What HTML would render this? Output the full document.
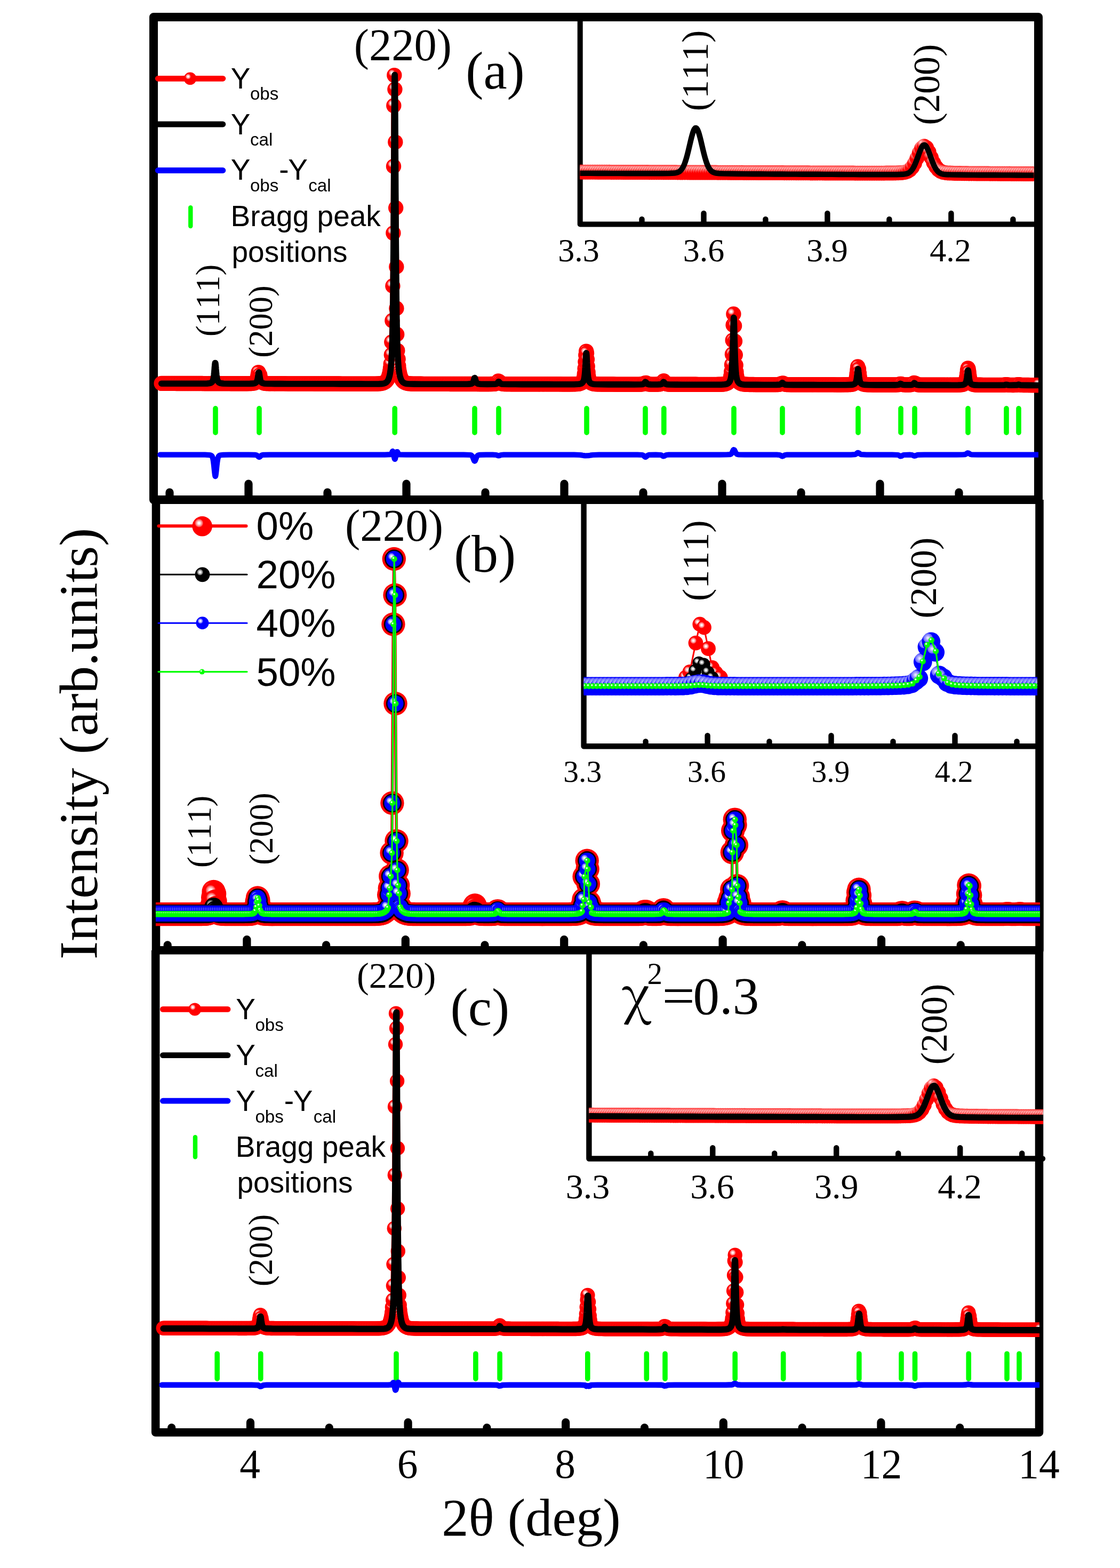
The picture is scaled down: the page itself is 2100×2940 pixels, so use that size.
<!DOCTYPE html>
<html lang="en"><head><meta charset="utf-8"><title>XRD Rietveld refinement figure</title>
<style>html,body{margin:0;padding:0;background:#fff;width:2100px;height:2940px}svg{display:block}text{fill:#000;font-kerning:none;font-variant-ligatures:none}</style></head>
<body>
<svg width="2100" height="2940" viewBox="0 0 2100 2940">
<rect width="2100" height="2940" fill="#fff"/>
<defs>
<radialGradient id="gr" cx=".34" cy=".34" r=".22"><stop offset="0" stop-color="#fff"/><stop offset=".18" stop-color="#fff"/><stop offset=".45" stop-color="#ffc0c0"/><stop offset=".8" stop-color="#ff6060"/><stop offset="1" stop-color="#f00"/></radialGradient>
<radialGradient id="gk" cx=".34" cy=".34" r=".22"><stop offset="0" stop-color="#fff"/><stop offset=".18" stop-color="#fff"/><stop offset=".45" stop-color="#c8c8c8"/><stop offset=".8" stop-color="#707070"/><stop offset="1" stop-color="#000"/></radialGradient>
<radialGradient id="gb" cx=".34" cy=".34" r=".22"><stop offset="0" stop-color="#fff"/><stop offset=".18" stop-color="#fff"/><stop offset=".45" stop-color="#c0c0ff"/><stop offset=".8" stop-color="#6868ff"/><stop offset="1" stop-color="#00f"/></radialGradient>
<radialGradient id="gg" cx=".34" cy=".34" r=".22"><stop offset="0" stop-color="#fff"/><stop offset=".18" stop-color="#fff"/><stop offset=".45" stop-color="#c0ffc0"/><stop offset=".8" stop-color="#60ff60"/><stop offset="1" stop-color="#0f0"/></radialGradient>
<radialGradient id="gR" cx=".3" cy=".25" r=".34"><stop offset="0" stop-color="#fff"/><stop offset=".15" stop-color="#ffd0d0"/><stop offset=".5" stop-color="#ff7070"/><stop offset="1" stop-color="#f00"/></radialGradient>
<radialGradient id="gB" cx=".33" cy=".31" r=".27"><stop offset="0" stop-color="#fff"/><stop offset=".15" stop-color="#e0e0ff"/><stop offset=".5" stop-color="#a0a0ff"/><stop offset=".9" stop-color="#6060ff"/><stop offset="1" stop-color="#00f"/></radialGradient>
<marker id="mA" markerUnits="userSpaceOnUse" markerWidth="30.4" markerHeight="30.4" refX="15.2" refY="15.2" viewBox="0 0 30.4 30.4"><circle cx="15.2" cy="15.2" r="14.2" fill="url(#gr)"/></marker>
<marker id="mC" markerUnits="userSpaceOnUse" markerWidth="29.4" markerHeight="29.4" refX="14.7" refY="14.7" viewBox="0 0 29.4 29.4"><circle cx="14.7" cy="14.7" r="13.7" fill="url(#gr)"/></marker>
<marker id="mBr" markerUnits="userSpaceOnUse" markerWidth="46.4" markerHeight="46.4" refX="23.2" refY="23.2" viewBox="0 0 46.4 46.4"><circle cx="23.2" cy="23.2" r="22.2" fill="url(#gr)"/></marker>
<marker id="mBk" markerUnits="userSpaceOnUse" markerWidth="37.2" markerHeight="37.2" refX="18.6" refY="18.6" viewBox="0 0 37.2 37.2"><circle cx="18.6" cy="18.6" r="17.6" fill="url(#gk)"/></marker>
<marker id="mBb" markerUnits="userSpaceOnUse" markerWidth="32" markerHeight="32" refX="16" refY="16" viewBox="0 0 32 32"><circle cx="16" cy="16" r="15" fill="url(#gb)"/></marker>
<marker id="mBg" markerUnits="userSpaceOnUse" markerWidth="13.2" markerHeight="13.2" refX="6.6" refY="6.6" viewBox="0 0 13.2 13.2"><circle cx="6.6" cy="6.6" r="5.6" fill="url(#gg)"/></marker>
<marker id="iR" markerUnits="userSpaceOnUse" markerWidth="30" markerHeight="30" refX="15" refY="15" viewBox="0 0 30 30"><circle cx="15" cy="15" r="14" fill="url(#gR)"/></marker>
<marker id="jR" markerUnits="userSpaceOnUse" markerWidth="29.8" markerHeight="29.8" refX="14.9" refY="14.9" viewBox="0 0 29.8 29.8"><circle cx="14.9" cy="14.9" r="13.9" fill="url(#gr)"/></marker>
<marker id="jK" markerUnits="userSpaceOnUse" markerWidth="26.4" markerHeight="26.4" refX="13.2" refY="13.2" viewBox="0 0 26.4 26.4"><circle cx="13.2" cy="13.2" r="12.2" fill="url(#gk)"/></marker>
<marker id="jB" markerUnits="userSpaceOnUse" markerWidth="36.8" markerHeight="36.8" refX="18.4" refY="18.4" viewBox="0 0 36.8 36.8"><circle cx="18.4" cy="18.4" r="17.4" fill="url(#gB)"/></marker>
<marker id="jG" markerUnits="userSpaceOnUse" markerWidth="13.2" markerHeight="13.2" refX="6.6" refY="6.6" viewBox="0 0 13.2 13.2"><circle cx="6.6" cy="6.6" r="5.6" fill="url(#gg)"/></marker>
<clipPath id="cA"><rect x="288" y="40" width="1659" height="890"/></clipPath>
<clipPath id="cB"><rect x="292.3" y="945" width="1657.7" height="830"/></clipPath>
<clipPath id="cC"><rect x="291.7" y="1790" width="1657.3" height="888"/></clipPath>
<clipPath id="cIA"><rect x="1087.5" y="40" width="851" height="376"/></clipPath>
<clipPath id="cIB"><rect x="1094.6" y="945" width="850.4" height="450"/></clipPath>
<clipPath id="cIC"><rect x="1104.3" y="1790" width="851.7" height="378"/></clipPath>
</defs>
<g stroke="#000" fill="none" stroke-linejoin="round" stroke-linecap="butt">
<rect x="288" y="32" width="1659" height="905" stroke-width="16"/>
<path d="M292.5 937V1781.8H1949V937" stroke-width="15.5"/>
<path d="M291.7 1781.8V2685.7H1948.5V1781.8" stroke-width="15.5"/>
<path d="M1087.7 36V420.5H1947" stroke-width="10"/>
<path d="M1094.6 940V1399.3H1949" stroke-width="10.4"/>
<path d="M1104.4 1785V2172.5H1955" stroke-width="10.4" stroke-linecap="round"/>
</g>
<path d="M318 932V923.1M466 932V907.1M614 932V923.1M762 932V907.1M910 932V923.1M1058 932V907.1M1206 932V923.1M1354 932V907.1M1502 932V923.1M1650 932V907.1M1798 932V923.1" stroke="#000" stroke-width="15.2" stroke-linecap="round" fill="none"/>
<path d="M314.2 1777V1771.9M462.9 1777V1761.6M611.6 1777V1771.9M760.3 1777V1761.6M909 1777V1771.9M1057.7 1777V1761.6M1206.4 1777V1771.9M1355.1 1777V1761.6M1503.8 1777V1771.9M1652.5 1777V1761.6M1801.2 1777V1771.9" stroke="#000" stroke-width="15.2" stroke-linecap="round" fill="none"/>
<path d="M321.7 2681V2676.8M469.5 2681V2666.9M617.3 2681V2676.8M765.1 2681V2666.9M912.9 2681V2676.8M1060.7 2681V2666.9M1208.5 2681V2676.8M1356.3 2681V2666.9M1504.1 2681V2676.8M1651.9 2681V2666.9M1799.7 2681V2676.8" stroke="#000" stroke-width="15.2" stroke-linecap="round" fill="none"/>
<path d="M1203.5 418V411M1319.5 418V399.9M1435.4 418V411M1551.4 418V399.9M1667.4 418V411M1783.4 418V399.9M1899.4 418V411" stroke="#000" stroke-width="10.4" stroke-linecap="round" fill="none"/>
<path d="M1210.6 1397V1390.2M1326.6 1397V1379.2M1442.5 1397V1390.2M1558.5 1397V1379.2M1674.5 1397V1390.2M1790.5 1397V1379.2M1906.5 1397V1390.2" stroke="#000" stroke-width="10.4" stroke-linecap="round" fill="none"/>
<path d="M1220.3 2170V2162.4M1336.3 2170V2152.2M1452.2 2170V2162.4M1568.2 2170V2152.2M1684.2 2170V2162.4M1800.2 2170V2152.2M1916.2 2170V2162.4" stroke="#000" stroke-width="10.4" stroke-linecap="round" fill="none"/>
<g clip-path="url(#cA)">
<polyline points="302.7,718.9 305.3,718.9 307.8,718.9 310.4,718.9 312.9,718.9 315.5,718.9 318,718.9 320.6,718.9 323.1,718.9 325.7,718.9 328.2,718.9 330.8,719 333.3,719 335.9,719 338.4,719 341,719 343.5,719 346.1,719 348.6,719 351.2,719 353.7,719 356.3,719 358.8,719 361.4,719 363.9,719 366.5,719 369,719 371.6,719 374.1,719 376.7,719 379.2,719 381.8,719.1 384.3,719.1 386.9,719.1 389.4,719.1 392,719.1 394.5,719.1 397.1,719.1 399.6,719.1 402.2,719.1 404.7,719.1 407.3,719.1 409.8,719.1 412.4,719.1 414.9,719.1 417.5,719.1 420,719.1 422.6,719.1 425.1,719.1 427.7,719.1 430.2,719.1 432.8,719.2 435.3,719.2 437.9,719.2 440.4,719.2 443,719.2 445.5,719.2 448.1,719.2 450.6,719.2 453.2,719.2 455.7,719.2 458.3,719.2 460.8,719.2 463.4,719.2 465.9,719.1 468.5,719.1 471,719 473.6,718.8 476.1,718.4 478.7,717.6 480.4,715.9 482.1,711.3 482.9,707.3 483.8,702.5 484.6,698.1 487.2,703.1 488,707.9 488.9,711.7 489.7,714.4 491.4,717 494,718.3 496.5,718.7 499.1,719 501.6,719.1 504.2,719.2 506.7,719.2 509.3,719.3 511.8,719.3 514.4,719.3 516.9,719.3 519.5,719.3 522,719.3 524.6,719.3 527.1,719.3 529.7,719.3 532.2,719.3 534.8,719.3 537.3,719.4 539.9,719.4 542.4,719.4 545,719.4 547.5,719.4 550.1,719.4 552.6,719.4 555.2,719.4 557.7,719.4 560.3,719.4 562.8,719.4 565.4,719.4 567.9,719.4 570.5,719.4 573,719.4 575.6,719.4 578.1,719.4 580.7,719.4 583.2,719.4 585.8,719.4 588.3,719.5 590.9,719.5 593.4,719.5 596,719.5 598.5,719.5 601.1,719.5 603.6,719.5 606.2,719.5 608.7,719.5 611.3,719.5 613.8,719.5 616.4,719.5 618.9,719.5 621.5,719.5 624,719.5 626.6,719.5 629.1,719.5 631.7,719.5 634.2,719.5 636.8,719.5 639.3,719.6 641.9,719.6 644.4,719.6 647,719.6 649.5,719.6 652.1,719.6 654.6,719.6 657.2,719.6 659.7,719.6 662.3,719.6 664.8,719.6 667.4,719.6 669.9,719.6 672.5,719.6 675,719.6 677.6,719.6 680.1,719.6 682.7,719.6 685.2,719.6 687.8,719.6 690.3,719.6 692.9,719.7 695.4,719.7 698,719.6 700.5,719.6 703.1,719.6 705.6,719.6 708.2,719.5 710.7,719.4 713.3,719.1 715.8,718.7 718.4,718.1 720.9,717 722.6,716 724.3,714.5 726,712.3 727.7,709 728.6,706.8 729.4,704.1 730.3,700.6 731.1,696 732,689.8 732.7,682.4 733.8,665.3 734.3,641.5 735.4,601.3 736.4,536.3 737.4,437.1 738,311.9 738.3,198.1 739.3,141.1 740.4,167.5 741.3,266.4 742.2,389.7 743.3,500.2 743.4,578.2 744.2,627 745.3,657.4 746.6,673.2 747.3,686.1 748.1,693.4 749,698.6 749.8,702.6 750.7,705.7 751.5,708.1 752.4,710.1 754.1,713 755.8,715 757.5,716.4 760,717.7 762.6,718.5 765.1,719 767.7,719.4 770.2,719.5 772.8,719.7 775.3,719.7 777.9,719.8 780.4,719.8 783,719.8 785.5,719.8 788.1,719.8 790.6,719.8 793.2,719.9 795.7,719.9 798.3,719.9 800.8,719.9 803.4,719.9 805.9,719.9 808.5,719.9 811,719.9 813.6,719.9 816.1,719.9 818.7,719.9 821.2,719.9 823.8,719.9 826.3,719.9 828.9,719.9 831.4,719.9 834,719.9 836.5,719.9 839.1,719.9 841.6,719.9 844.2,720 846.7,720 849.3,720 851.8,720 854.4,720 856.9,720 859.5,720 862,720 864.6,720 867.1,720 869.7,720 872.2,720 874.8,720 877.3,720 879.9,720 882.4,720 885,720 887.5,720 890.1,720 892.6,720 895.2,720 897.7,720.1 900.3,720.1 902.8,720.1 905.4,720.1 907.9,720.1 910.5,720.1 913,720.1 915.6,720.1 918.1,720.1 920.7,720 923.2,720 925.8,719.9 928.3,719.7 930.9,718.7 932.6,716.9 934.3,714.5 936.8,716 938.5,718.2 940.2,719.3 942.8,719.8 945.3,720 947.9,720.1 950.4,720.1 953,720.1 955.5,720.1 958.1,720.2 960.6,720.2 963.2,720.2 965.7,720.2 968.3,720.2 970.8,720.2 973.4,720.2 975.9,720.2 978.5,720.2 981,720.2 983.6,720.2 986.1,720.2 988.7,720.2 991.2,720.2 993.8,720.2 996.3,720.2 998.9,720.3 1001.4,720.3 1004,720.3 1006.5,720.3 1009.1,720.3 1011.6,720.3 1014.2,720.3 1016.7,720.3 1019.3,720.3 1021.8,720.3 1024.4,720.3 1026.9,720.3 1029.5,720.3 1032,720.3 1034.6,720.3 1037.1,720.3 1039.7,720.3 1042.2,720.3 1044.8,720.3 1047.3,720.3 1049.9,720.3 1052.4,720.4 1055,720.4 1057.5,720.4 1060.1,720.4 1062.6,720.4 1065.2,720.4 1067.7,720.4 1070.3,720.4 1072.8,720.3 1075.4,720.3 1077.9,720.2 1080.5,720.1 1083,719.9 1085.6,719.6 1088.1,719 1090.7,717.9 1092.4,716.2 1094.1,712.1 1094.9,707.9 1095.8,701 1096.6,691.1 1097.5,678.5 1098.3,665.7 1099.2,658.6 1100,662.2 1100.9,673.8 1101.7,686.9 1102.6,697.9 1103.4,705.8 1104.3,710.9 1105.1,713.9 1106,715.8 1107.7,717.7 1110.2,719 1112.8,719.6 1115.3,720 1117.9,720.2 1120.4,720.3 1123,720.4 1125.5,720.4 1128.1,720.5 1130.6,720.5 1133.2,720.5 1135.7,720.5 1138.3,720.5 1140.8,720.5 1143.4,720.5 1145.9,720.5 1148.5,720.5 1151,720.5 1153.6,720.6 1156.1,720.6 1158.7,720.6 1161.2,720.6 1163.8,720.6 1166.3,720.6 1168.9,720.6 1171.4,720.6 1174,720.6 1176.5,720.6 1179.1,720.6 1181.6,720.6 1184.2,720.6 1186.7,720.6 1189.3,720.6 1191.8,720.6 1194.4,720.6 1196.9,720.6 1199.5,720.6 1202,720.5 1204.6,720.3 1207.1,719.5 1208.8,718.4 1211.4,718 1213.1,719.3 1215.6,720.3 1218.2,720.5 1220.7,720.6 1223.3,720.6 1225.8,720.6 1228.4,720.6 1230.9,720.6 1233.5,720.5 1236,720.4 1238.6,720 1241.1,718.3 1242.8,715.7 1244.5,714.3 1246.2,716.4 1247.9,718.7 1249.6,719.9 1252.2,720.4 1254.7,720.6 1257.3,720.7 1259.8,720.7 1262.4,720.7 1264.9,720.7 1267.5,720.8 1270,720.8 1272.6,720.8 1275.1,720.8 1277.7,720.8 1280.2,720.8 1282.8,720.8 1285.3,720.8 1287.9,720.8 1290.4,720.8 1293,720.8 1295.5,720.8 1298.1,720.8 1300.6,720.8 1303.2,720.8 1305.7,720.8 1308.3,720.9 1310.8,720.9 1313.4,720.9 1315.9,720.9 1318.5,720.9 1321,720.9 1323.6,720.9 1326.1,720.9 1328.7,720.9 1331.2,720.9 1333.8,720.9 1336.3,720.9 1338.9,720.9 1341.4,720.9 1344,720.9 1346.5,720.8 1349.1,720.8 1351.6,720.7 1354.2,720.6 1356.7,720.3 1359.3,720 1361.8,719.3 1364.4,718.1 1366.1,716.7 1367.8,714.4 1368.6,712.5 1369.5,709.6 1370.3,704.8 1371.2,696.8 1372,683.8 1372.9,664.2 1373.7,638.1 1374.6,609.4 1375.4,588.8 1377.1,611 1378,639.8 1378.8,665.5 1379.7,684.7 1380.5,697.4 1381.4,705.2 1382.2,709.8 1383.1,712.6 1383.9,714.5 1385.6,716.8 1387.3,718.2 1389.9,719.4 1392.4,720 1395,720.4 1397.5,720.7 1400.1,720.8 1402.6,720.9 1405.2,721 1407.7,721 1410.3,721 1412.8,721 1415.4,721.1 1417.9,721.1 1420.5,721.1 1423,721.1 1425.6,721.1 1428.1,721.1 1430.7,721.1 1433.2,721.1 1435.8,721.1 1438.3,721.1 1440.9,721.1 1443.4,721.1 1446,721.1 1448.5,721.1 1451.1,721.1 1453.6,721.1 1456.2,721.1 1458.7,721 1461.3,720.8 1463.8,720 1465.5,718.9 1468.1,718.5 1469.8,719.8 1472.3,720.8 1474.9,721 1477.4,721.1 1480,721.1 1482.5,721.2 1485.1,721.2 1487.6,721.2 1490.2,721.2 1492.7,721.2 1495.3,721.2 1497.8,721.2 1500.4,721.2 1502.9,721.2 1505.5,721.2 1508,721.2 1510.6,721.2 1513.1,721.2 1515.7,721.3 1518.2,721.3 1520.8,721.3 1523.3,721.3 1525.9,721.3 1528.4,721.3 1531,721.3 1533.5,721.3 1536.1,721.3 1538.6,721.3 1541.2,721.3 1543.7,721.3 1546.3,721.3 1548.8,721.3 1551.4,721.3 1553.9,721.3 1556.5,721.3 1559,721.3 1561.6,721.3 1564.1,721.3 1566.7,721.4 1569.2,721.4 1571.8,721.4 1574.3,721.4 1576.9,721.4 1579.4,721.4 1582,721.3 1584.5,721.3 1587.1,721.3 1589.6,721.2 1592.2,721.1 1594.7,721 1597.3,720.7 1599.8,720.1 1602.4,718.6 1604.1,715.5 1604.9,712.3 1605.8,707.4 1606.6,700.8 1607.5,693.4 1608.3,687.5 1610,692.1 1610.9,699.5 1611.7,706.4 1612.6,711.5 1613.4,715 1614.3,717.2 1616,719.2 1618.5,720.3 1621.1,720.8 1623.6,721.1 1626.2,721.2 1628.7,721.3 1631.3,721.4 1633.8,721.4 1636.4,721.5 1638.9,721.5 1641.5,721.5 1644,721.5 1646.6,721.5 1649.1,721.5 1651.7,721.5 1654.2,721.5 1656.8,721.5 1659.3,721.5 1661.9,721.5 1664.4,721.5 1667,721.5 1669.5,721.5 1672.1,721.5 1674.6,721.5 1677.2,721.5 1679.7,721.5 1682.3,721.4 1684.8,721.1 1687.4,720 1689.9,719.9 1692.5,721 1695,721.4 1697.6,721.5 1700.1,721.5 1702.7,721.5 1705.2,721.5 1707.8,721.3 1710.3,720.7 1712,719.6 1713.7,717.9 1716.3,718.8 1718,720.3 1720.5,721.3 1723.1,721.5 1725.6,721.6 1728.2,721.6 1730.7,721.6 1733.3,721.7 1735.8,721.7 1738.4,721.7 1740.9,721.7 1743.5,721.7 1746,721.7 1748.6,721.7 1751.1,721.7 1753.7,721.7 1756.2,721.7 1758.8,721.7 1761.3,721.7 1763.9,721.7 1766.4,721.7 1769,721.7 1771.5,721.7 1774.1,721.8 1776.6,721.8 1779.2,721.8 1781.7,721.8 1784.3,721.8 1786.8,721.8 1789.4,721.7 1791.9,721.7 1794.5,721.7 1797,721.6 1799.6,721.5 1802.1,721.3 1804.7,721 1807.2,720.2 1808.9,718.9 1810.6,715.4 1811.5,712 1812.3,706.9 1813.2,700.5 1814,694 1814.9,690.4 1815.7,692.3 1816.6,698.1 1817.4,704.8 1818.3,710.4 1819.1,714.4 1820,717 1821.7,719.5 1824.2,720.7 1826.8,721.2 1829.3,721.5 1831.9,721.6 1834.4,721.7 1837,721.8 1839.5,721.8 1842.1,721.9 1844.6,721.9 1847.2,721.9 1849.7,721.9 1852.3,721.9 1854.8,721.9 1857.4,721.9 1859.9,721.9 1862.5,721.9 1865,721.9 1867.6,721.9 1870.1,721.9 1872.7,721.9 1875.2,721.9 1877.8,721.9 1880.3,721.9 1882.9,721.7 1885.4,721.2 1888,721.1 1890.5,721.7 1893.1,721.9 1895.6,721.9 1898.2,722 1900.7,722 1903.3,721.9 1905.8,721.8 1908.4,721.3 1910.9,721.1 1913.5,721.7 1916,721.9 1918.6,722 1921.1,722 1923.7,722 1926.2,722 1928.8,722 1931.3,722.1 1933.9,722.1 1936.4,722.1 1939,722.1 1941.5,722.1 1944.1,722.1 1946.6,722.1 1949.2,722.1" fill="none" stroke="#f00" stroke-width="10" stroke-linejoin="round" marker-start="url(#mA)" marker-mid="url(#mA)" marker-end="url(#mA)"/>
<polyline points="302.7,719.2 314.9,719.2 327.2,719.2 339.4,719.3 351.7,719.3 363.9,719.3 376.2,719.3 388.4,719.1 391.9,718.8 393.7,718.4 394.9,718 395.9,717.5 396.7,717 397.2,716.6 397.7,716.1 397.9,715.8 398.2,715.4 398.4,715 398.7,714.6 398.9,714 399.2,713.4 399.4,712.7 399.7,711.9 399.9,711 400.2,709.9 400.4,708.6 400.7,707.1 400.9,705.4 401.2,703.4 401.4,701.2 401.7,698.6 401.9,695.8 402.2,692.8 402.4,689.7 402.7,686.7 402.9,683.9 403.2,681.8 403.4,680.6 403.7,680.5 403.9,681.5 404.2,683.4 404.4,686.1 404.7,689.1 404.9,692.2 405.2,695.3 405.4,698.1 405.7,700.7 405.9,703 406.2,705 406.4,706.8 406.7,708.3 406.9,709.6 407.2,710.8 407.4,711.8 407.7,712.6 407.9,713.3 408.2,713.9 408.4,714.5 408.7,715 408.9,715.4 409.2,715.7 409.7,716.3 410.2,716.8 410.7,717.2 411.4,717.7 412.4,718.1 413.7,718.5 415.7,718.9 419.7,719.2 431.9,719.5 444.2,719.5 456.4,719.5 468.7,719.4 474.9,719.1 477.2,718.7 478.4,718.3 479.2,717.9 479.9,717.4 480.4,716.9 480.9,716.3 481.2,716 481.4,715.5 481.7,715 481.9,714.4 482.2,713.8 482.4,713 482.7,712 482.9,711 483.2,709.8 483.4,708.4 483.7,706.9 483.9,705.3 484.2,703.5 484.4,701.8 484.7,700.3 484.9,699 485.2,698.3 485.4,698.1 485.7,698.5 485.9,699.5 486.2,700.9 486.4,702.5 486.7,704.2 486.9,705.9 487.2,707.5 487.4,709 487.7,710.3 487.9,711.4 488.2,712.4 488.4,713.3 488.7,714.1 488.9,714.7 489.2,715.3 489.4,715.7 489.7,716.1 489.9,716.5 490.4,717.1 490.9,717.5 491.7,718 492.7,718.4 493.9,718.8 496.2,719.2 502.7,719.5 514.7,719.6 527,719.6 539.2,719.7 551.5,719.7 563.7,719.7 576,719.7 588.2,719.8 600.5,719.8 612.7,719.8 625,719.8 637.2,719.9 649.5,719.9 661.7,719.9 674,719.9 686.2,720 698.5,720 710.7,719.9 716.7,719.6 719,719.2 720.5,718.8 721.5,718.5 722.5,718 723.2,717.6 724,717.1 724.5,716.7 725,716.3 725.5,715.8 726,715.2 726.5,714.5 726.7,714.2 727,713.8 727.2,713.4 727.5,713 727.7,712.5 728,712 728.2,711.5 728.5,710.9 728.7,710.3 729,709.6 729.2,708.9 729.5,708.1 729.7,707.3 730,706.4 730.2,705.5 730.5,704.4 730.7,703.3 731,702.1 731.2,700.8 731.5,699.4 731.7,697.8 732,696.1 732.2,694.3 732.5,692.3 732.7,690.1 733,687.6 733.2,684.9 733.5,681.9 733.7,678.6 734,674.9 734.2,670.8 734.5,666.2 734.7,660.9 735,655 735.2,648.1 735.5,640.3 735.7,631.3 736,620.9 736.2,608.8 736.5,594.7 736.7,578.3 737,559.2 737.2,537 737.5,511.4 737.7,482 738,448.5 738.2,410.8 738.5,369.1 738.7,324.2 739,277.7 739.2,232.2 739.5,191.5 739.7,160.1 740,142.1 740.2,140.4 740.5,155.3 740.7,184.4 741,223.6 741.2,268.4 741.5,315 741.7,360.3 742,402.7 742.2,441.3 742.5,475.6 742.7,505.9 743,532.2 743.2,555 743.5,574.7 743.7,591.6 744,606.1 744.2,618.6 744.5,629.4 744.7,638.6 745,646.7 745.2,653.7 745.5,659.8 745.7,665.2 746,670 746.2,674.2 746.5,678 746.7,681.3 747,684.4 747.2,687.1 747.5,689.6 747.7,691.9 748,693.9 748.2,695.8 748.5,697.5 748.7,699.1 749,700.6 749.2,701.9 749.5,703.1 749.7,704.3 750,705.3 750.2,706.3 750.5,707.2 750.7,708 751,708.8 751.2,709.5 751.5,710.2 751.7,710.8 752,711.4 752.2,711.9 752.5,712.4 752.7,712.9 753,713.4 753.2,713.8 753.5,714.2 753.7,714.5 754.2,715.2 754.7,715.8 755.2,716.3 755.7,716.7 756.2,717.1 756.7,717.5 757.5,717.9 758.2,718.3 759.2,718.7 760.5,719.1 762.2,719.5 765.2,719.8 777.5,720.1 789.7,720.2 802,720.2 814.2,720.2 826.5,720.2 838.7,720.3 851,720.3 863.2,720.3 875.5,720.3 881.7,719.9 883.7,719.5 884.7,719.1 885.5,718.6 886,718.2 886.5,717.6 886.7,717.3 887,716.9 887.2,716.4 887.5,715.8 887.7,715.2 888,714.5 888.2,713.6 888.5,712.8 888.7,711.8 889,710.9 889.2,709.9 889.5,709.2 889.7,708.6 890.2,708.5 890.5,708.9 890.7,709.6 891,710.5 891.2,711.4 891.5,712.4 891.7,713.3 892,714.2 892.2,714.9 892.5,715.6 892.7,716.2 893,716.7 893.2,717.1 893.5,717.5 894,718.1 894.5,718.6 895.2,719.1 896.2,719.5 897.7,719.8 901.2,720.2 913.5,720.4 925.7,720.3 929.7,719.9 931,719.6 931.7,719.2 932.2,718.8 932.7,718.3 933.2,717.7 933.5,717.3 933.7,716.9 934,716.5 934.2,716.1 934.7,715.6 935.7,716 936,716.3 936.2,716.7 936.5,717.1 936.7,717.5 937,717.9 937.5,718.5 938,718.9 938.7,719.4 939.7,719.8 941.7,720.2 954,720.5 966.2,720.5 978.5,720.6 990.7,720.6 1003,720.6 1015.2,720.6 1027.5,720.6 1039.7,720.7 1052,720.7 1064.2,720.7 1076.5,720.7 1084.7,720.3 1087.2,719.9 1088.7,719.5 1089.7,719.2 1090.5,718.8 1091.2,718.3 1091.7,717.9 1092.2,717.4 1092.7,716.8 1093,716.5 1093.2,716.1 1093.5,715.7 1093.7,715.2 1094,714.7 1094.2,714 1094.5,713.3 1094.7,712.5 1095,711.6 1095.2,710.5 1095.5,709.2 1095.7,707.7 1096,706 1096.2,704 1096.5,701.7 1096.7,699 1097,696 1097.2,692.5 1097.5,688.6 1097.7,684.3 1098,679.7 1098.2,674.9 1098.5,670.4 1098.7,666.4 1099,663.4 1099.2,661.9 1099.5,662.1 1099.7,663.9 1100,667.1 1100.2,671.3 1100.5,675.9 1100.7,680.6 1101,685.2 1101.2,689.4 1101.5,693.2 1101.7,696.6 1102,699.6 1102.2,702.2 1102.5,704.5 1102.7,706.4 1103,708.1 1103.2,709.5 1103.5,710.7 1103.7,711.8 1104,712.7 1104.2,713.5 1104.5,714.2 1104.7,714.8 1105,715.3 1105.2,715.8 1105.5,716.2 1105.7,716.6 1106.2,717.2 1106.7,717.8 1107.2,718.2 1107.7,718.6 1108.5,719 1109.5,719.4 1110.7,719.8 1112.5,720.2 1115.7,720.5 1128,720.8 1140.2,720.9 1152.5,720.9 1164.7,720.9 1177,720.9 1189.2,721 1201.5,720.8 1205.2,720.4 1206.5,720 1207.2,719.6 1207.7,719.2 1208.2,718.6 1208.5,718.3 1208.7,717.9 1209,717.5 1209.2,717.1 1209.5,716.7 1210,716.2 1211,716.5 1211.2,716.8 1211.5,717.2 1211.7,717.6 1212,718 1212.2,718.4 1212.7,719 1213.2,719.4 1213.7,719.8 1214.5,720.2 1216,720.6 1220.5,720.9 1232.7,721 1238.7,720.6 1240.2,720.2 1241,719.8 1241.5,719.5 1242,719 1242.5,718.3 1242.7,718 1243,717.6 1243.2,717.2 1243.5,716.8 1244,716.2 1245,716.5 1245.2,716.9 1245.5,717.3 1245.7,717.7 1246,718.1 1246.2,718.4 1246.7,719 1247.2,719.5 1247.7,719.9 1248.5,720.2 1250,720.6 1254.5,721 1266.7,721.1 1279,721.2 1291.2,721.2 1303.5,721.2 1315.7,721.2 1328,721.3 1340.2,721.3 1352.5,721.2 1358.5,720.8 1360.7,720.5 1362.2,720.1 1363.5,719.7 1364.2,719.3 1365,718.9 1365.7,718.3 1366.2,717.9 1366.7,717.4 1367.2,716.8 1367.5,716.4 1367.7,716.1 1368,715.7 1368.2,715.2 1368.5,714.7 1368.7,714.2 1369,713.6 1369.2,712.9 1369.5,712.2 1369.7,711.4 1370,710.5 1370.2,709.4 1370.5,708.3 1370.7,706.9 1371,705.4 1371.2,703.7 1371.5,701.7 1371.7,699.3 1372,696.6 1372.2,693.5 1372.5,689.8 1372.7,685.5 1373,680.6 1373.2,674.9 1373.5,668.3 1373.7,660.9 1374,652.5 1374.2,643.3 1374.5,633.5 1374.7,623.4 1375,613.7 1375.2,605.2 1375.5,598.9 1375.7,595.6 1376,596 1376.2,599.9 1376.5,606.7 1376.7,615.6 1377,625.4 1377.2,635.5 1377.5,645.2 1377.7,654.3 1378,662.5 1378.2,669.7 1378.5,676.1 1378.7,681.7 1379,686.5 1379.2,690.6 1379.5,694.2 1379.7,697.2 1380,699.8 1380.2,702.1 1380.5,704.1 1380.7,705.8 1381,707.2 1381.2,708.5 1381.5,709.7 1381.7,710.7 1382,711.6 1382.2,712.4 1382.5,713.1 1382.7,713.7 1383,714.3 1383.2,714.9 1383.5,715.3 1383.7,715.8 1384,716.2 1384.2,716.5 1384.7,717.2 1385.2,717.7 1385.7,718.2 1386.2,718.6 1387,719.1 1387.7,719.5 1388.7,719.9 1390,720.3 1391.7,720.7 1394.7,721.1 1407,721.4 1419.2,721.4 1431.5,721.5 1443.7,721.5 1456,721.4 1462,721.1 1463.5,720.6 1464.2,720.2 1464.7,719.8 1465.2,719.3 1465.7,718.7 1466.2,718.1 1466.7,717.6 1468,718.2 1468.5,718.9 1469,719.5 1469.5,719.9 1470,720.3 1470.7,720.7 1472,721.1 1475.7,721.4 1488,721.6 1500.2,721.6 1512.5,721.6 1524.7,721.6 1537,721.7 1549.2,721.7 1561.5,721.7 1573.7,721.7 1586,721.7 1596.7,721.4 1599.2,721 1600.7,720.5 1601.7,720.1 1602.5,719.6 1603,719.2 1603.5,718.7 1603.7,718.4 1604,718 1604.2,717.6 1604.5,717.1 1604.7,716.6 1605,715.9 1605.2,715.2 1605.5,714.3 1605.7,713.3 1606,712.1 1606.2,710.7 1606.5,709.2 1606.7,707.4 1607,705.4 1607.2,703.2 1607.5,700.9 1607.7,698.5 1608,696.2 1608.2,694.1 1608.5,692.6 1608.7,691.9 1609,692 1609.2,692.9 1609.5,694.5 1609.7,696.6 1610,699 1610.2,701.4 1610.5,703.7 1610.7,705.8 1611,707.8 1611.2,709.5 1611.5,711 1611.7,712.4 1612,713.5 1612.2,714.5 1612.5,715.3 1612.7,716.1 1613,716.7 1613.2,717.2 1613.5,717.7 1613.7,718.1 1614,718.5 1614.5,719 1615,719.5 1615.5,719.9 1616.2,720.3 1617.2,720.7 1618.7,721.1 1621.2,721.4 1629,721.8 1641.2,721.9 1653.5,721.9 1665.7,721.9 1678,721.9 1684.2,721.5 1685.7,721.1 1686.5,720.6 1687,720.2 1687.5,719.8 1688,719.3 1690,719.8 1690.5,720.2 1691,720.6 1691.7,721.1 1693,721.5 1696.5,721.8 1708.7,721.7 1710.5,721.3 1711.5,720.8 1712.2,720.3 1712.7,719.8 1713.2,719.2 1713.7,718.5 1714.2,718.1 1715.5,718.7 1716,719.4 1716.5,720 1717,720.4 1717.5,720.8 1718.2,721.2 1719.5,721.5 1723.2,721.9 1735.5,722.1 1747.7,722.1 1760,722.1 1772.2,722.1 1784.5,722.2 1796.7,722.1 1803.5,721.7 1805.7,721.4 1807,721 1808,720.6 1808.7,720.1 1809.2,719.8 1809.7,719.3 1810.2,718.6 1810.5,718.2 1810.7,717.7 1811,717.2 1811.2,716.6 1811.5,715.9 1811.7,715 1812,714.1 1812.2,712.9 1812.5,711.6 1812.7,710.1 1813,708.4 1813.2,706.5 1813.5,704.5 1813.7,702.3 1814,700 1814.2,697.9 1814.5,696.1 1814.7,694.8 1815,694.2 1815.2,694.5 1815.5,695.5 1815.7,697.1 1816,699.1 1816.2,701.4 1816.5,703.6 1816.7,705.7 1817,707.7 1817.2,709.5 1817.5,711.1 1817.7,712.4 1818,713.6 1818.2,714.7 1818.5,715.6 1818.7,716.3 1819,717 1819.2,717.6 1819.5,718 1819.7,718.5 1820,718.8 1820.5,719.4 1821,719.9 1821.5,720.3 1822.2,720.7 1823.2,721.1 1824.7,721.5 1827.2,721.9 1835.5,722.2 1847.7,722.3 1860,722.3 1872.2,722.3 1883.7,722 1885,721.6 1886,721.2 1889,721.6 1890.2,722 1895.5,722.3 1907.2,721.9 1908.5,721.5 1909.5,721 1911.5,721.4 1912.5,721.8 1914.2,722.2 1926.5,722.4 1938.7,722.5 1950.2,722.5" fill="none" stroke="#000" stroke-width="11.6" stroke-linejoin="round" stroke-linecap="round"/>
<path d="M404 765.8V811.2M486 765.8V811.2M740.2 765.8V811.2M890 765.8V811.2M935 765.8V811.2M1100 765.8V811.2M1210 765.8V811.2M1244.8 765.8V811.2M1376 765.8V811.2M1467 765.8V811.2M1609 765.8V811.2M1689 765.8V811.2M1715 765.8V811.2M1815 765.8V811.2M1887 765.8V811.2M1910 765.8V811.2" stroke="#0f0" stroke-width="9.6" stroke-linecap="round" fill="none"/>
<polyline points="300.2,852.6 312.2,852.6 324.2,852.6 336.2,852.6 348.2,852.6 360.2,852.6 372.2,852.6 384.2,852.7 392,853.1 394.4,853.4 395.9,853.9 396.8,854.5 397.1,854.8 397.4,855.1 397.7,855.6 398,856.2 398.3,856.9 398.6,857.8 398.9,858.8 399.2,860.1 399.5,861.6 399.8,863.4 400.1,865.3 400.4,867.6 400.7,870.1 401,872.7 401.3,875.6 401.6,878.5 401.9,881.5 402.2,884.3 402.5,887 402.8,889.3 403.1,891.2 403.4,892.5 403.7,893.1 404,892.9 404.3,892.1 404.6,890.6 404.9,888.6 405.2,886.1 405.5,883.4 405.8,880.5 406.1,877.5 406.4,874.6 406.7,871.8 407,869.2 407.3,866.8 407.6,864.7 407.9,862.7 408.2,861.1 408.5,859.7 408.8,858.5 409.1,857.5 409.4,856.6 409.7,856 410,855.4 410.3,855 410.9,854.4 411.5,854 412.4,853.6 414.2,853.3 418.1,852.9 430.1,852.6 442.1,852.6 454.1,852.6 466.1,852.6 478.1,852.8 480.5,853.2 481.4,853.6 482,854 482.6,854.5 483.2,855 483.8,855.6 484.4,856.2 485,856.7 485.9,857.1 487.1,856.7 487.7,856.1 488.3,855.5 488.9,854.9 489.5,854.4 490.1,853.9 490.7,853.5 491.6,853.2 493.7,852.8 505.7,852.6 517.7,852.6 529.7,852.6 541.7,852.6 553.7,852.6 565.7,852.6 577.7,852.6 589.7,852.6 601.7,852.6 613.7,852.6 625.7,852.6 637.7,852.6 649.7,852.6 661.7,852.6 673.7,852.6 685.7,852.6 697.7,852.6 709.7,852.6 721.7,852.6 732.8,852.2 733.4,851.6 733.7,851.2 734,850.7 734.3,850 734.6,849.3 734.9,848.5 735.2,847.7 735.5,847 735.8,846.4 736.4,846 736.7,846.3 737,846.9 737.3,847.9 737.6,849.1 737.9,850.7 738.2,852.4 738.5,854.1 738.8,855.9 739.1,857.5 739.4,859 739.7,860.1 740,860.8 740.6,861 740.9,860.4 741.2,859.5 741.5,858.3 741.8,856.9 742.1,855.4 742.4,853.8 742.7,852.3 743,850.8 743.3,849.5 743.6,848.5 743.9,847.6 744.2,847.1 745.1,847.1 745.4,847.6 745.7,848.2 746,848.8 746.3,849.5 746.6,850.2 746.9,850.8 747.2,851.3 747.5,851.7 748.1,852.2 749.3,852.5 761.3,852.6 773.3,852.6 785.3,852.6 797.3,852.6 809.3,852.6 821.3,852.6 833.3,852.6 845.3,852.6 857.3,852.6 869.3,852.6 881.3,853 883.1,853.3 884,853.8 884.6,854.3 884.9,854.6 885.2,855 885.5,855.4 885.8,855.9 886.1,856.5 886.4,857.1 886.7,857.8 887,858.6 887.3,859.4 887.6,860.2 887.9,861 888.2,861.8 888.5,862.5 888.8,863.2 889.1,863.8 889.4,864.2 890,864.6 890.6,864.2 890.9,863.8 891.2,863.2 891.5,862.5 891.8,861.8 892.1,861 892.4,860.2 892.7,859.4 893,858.6 893.3,857.8 893.6,857.1 893.9,856.5 894.2,855.9 894.5,855.4 894.8,855 895.1,854.6 895.7,854 896.3,853.6 897.2,853.2 899.6,852.9 911.6,852.6 923.6,852.6 930.2,853 931.4,853.4 932.3,853.7 933.2,854.1 934.4,854.5 936.8,854.1 937.7,853.7 938.6,853.4 939.8,853 944.6,852.6 956.6,852.6 968.6,852.6 980.6,852.6 992.6,852.6 1004.6,852.6 1016.6,852.6 1028.6,852.6 1040.6,852.6 1052.6,852.6 1064.6,852.6 1076.6,852.7 1086.8,853 1090.1,853.4 1092.5,853.8 1094.6,854.1 1097.3,854.5 1104.2,854.1 1106.3,853.8 1108.7,853.4 1112,853 1123.1,852.7 1135.1,852.6 1147.1,852.6 1159.1,852.6 1171.1,852.6 1183.1,852.6 1195.1,852.6 1204.1,853 1205.3,853.4 1206.2,853.9 1206.8,854.4 1207.4,854.9 1208,855.5 1208.6,856.1 1209.2,856.7 1210.1,857.1 1211.3,856.7 1211.9,856.2 1212.5,855.6 1213.1,855 1213.7,854.5 1214.3,854 1214.9,853.6 1215.8,853.2 1217.6,852.8 1229.6,852.6 1238.9,853 1240.1,853.4 1241,853.9 1241.6,854.3 1242.2,854.7 1242.8,855.1 1243.7,855.5 1245.8,855.1 1246.4,854.7 1247,854.3 1247.6,853.9 1248.5,853.4 1249.7,853 1253.9,852.7 1265.9,852.6 1277.9,852.6 1289.9,852.6 1301.9,852.6 1313.9,852.6 1325.9,852.6 1337.9,852.6 1349.9,852.6 1361.9,852.5 1368.5,852.2 1369.7,851.8 1370.6,851.3 1371.2,850.7 1371.5,850.4 1371.8,850 1372.1,849.5 1372.4,849 1372.7,848.5 1373,847.9 1373.3,847.3 1373.6,846.6 1373.9,846 1374.2,845.3 1374.5,844.7 1374.8,844.2 1375.1,843.7 1375.7,843.2 1376.9,843.7 1377.2,844.2 1377.5,844.7 1377.8,845.3 1378.1,846 1378.4,846.6 1378.7,847.3 1379,847.9 1379.3,848.5 1379.6,849 1379.9,849.5 1380.2,850 1380.5,850.4 1381.1,851 1381.7,851.5 1382.6,851.9 1384.4,852.3 1396.4,852.6 1408.4,852.6 1420.4,852.6 1432.4,852.6 1444.4,852.6 1456.4,852.7 1461.8,853.1 1463,853.5 1463.9,854 1464.5,854.4 1465.1,854.8 1465.7,855.2 1466.6,855.6 1468.4,855.1 1469,854.8 1469.6,854.4 1470.2,854 1471.1,853.5 1472.3,853 1475.6,852.7 1487.6,852.6 1499.6,852.6 1511.6,852.6 1523.6,852.6 1535.6,852.6 1547.6,852.6 1559.6,852.6 1571.6,852.6 1583.6,852.6 1595.6,852.6 1603.1,852.2 1604.3,851.8 1605.2,851.2 1605.8,850.8 1606.4,850.3 1607,849.7 1607.6,849.2 1608.2,848.8 1610.6,849.4 1611.2,849.9 1611.8,850.4 1612.4,850.9 1613,851.4 1613.9,851.8 1615.1,852.2 1624.7,852.6 1636.7,852.6 1648.7,852.6 1660.7,852.6 1672.7,852.6 1683.5,853 1684.7,853.4 1685.6,853.8 1686.2,854.2 1686.8,854.6 1687.4,855 1688.3,855.5 1690.7,855 1691.3,854.6 1691.9,854.2 1692.5,853.8 1693.4,853.4 1694.6,853 1706.6,852.7 1710.2,853.1 1711.4,853.6 1712.3,854 1713.2,854.5 1714.1,854.9 1716.8,854.5 1717.7,854 1718.6,853.5 1719.5,853.2 1721.3,852.8 1733.3,852.6 1745.3,852.6 1757.3,852.6 1769.3,852.6 1781.3,852.6 1793.3,852.6 1805.3,852.5 1809.5,852.1 1810.7,851.7 1811.6,851.1 1812.2,850.7 1812.8,850.2 1813.4,849.8 1814,849.4 1816.7,849.8 1817.3,850.3 1817.9,850.8 1818.5,851.2 1819.1,851.6 1820,852 1821.5,852.3 1833.5,852.6 1845.5,852.6 1857.5,852.6 1869.5,852.6 1881.5,852.6 1893.5,852.6 1905.5,852.6 1917.5,852.6 1929.5,852.6 1941.5,852.6 1949.9,852.6" fill="none" stroke="#00f" stroke-width="10.2" stroke-linejoin="round" stroke-linecap="round"/>
</g>
<g clip-path="url(#cIA)">
<polyline points="1080,322.6 1084.4,322.6 1088.9,322.6 1093.3,322.7 1097.8,322.7 1102.2,322.7 1106.6,322.7 1111.1,322.7 1115.5,322.7 1120,322.8 1124.4,322.8 1128.8,322.8 1133.3,322.8 1137.7,322.8 1142.2,322.8 1146.6,322.9 1151,322.9 1155.5,322.9 1159.9,322.9 1164.4,322.9 1168.8,323 1173.2,323 1177.7,323 1182.1,323 1186.6,323 1191,323 1195.4,323.1 1199.9,323.1 1204.3,323.1 1208.8,323.1 1213.2,323.1 1217.6,323.2 1222.1,323.2 1226.5,323.2 1231,323.2 1235.4,323.2 1239.8,323.2 1244.3,323.3 1248.7,323.3 1253.2,323.3 1257.6,323.3 1262,323.3 1266.5,323.3 1270.9,323.4 1275.4,323.4 1279.8,323.4 1284.2,323.4 1288.7,323.4 1293.1,323.5 1297.6,323.5 1302,323.5 1306.4,323.5 1310.9,323.5 1315.3,323.5 1319.8,323.6 1324.2,323.6 1328.6,323.6 1333.1,323.6 1337.5,323.6 1342,323.6 1346.4,323.7 1350.8,323.7 1355.3,323.7 1359.7,323.7 1364.2,323.7 1368.6,323.8 1373,323.8 1377.5,323.8 1381.9,323.8 1386.4,323.8 1390.8,323.8 1395.2,323.9 1399.7,323.9 1404.1,323.9 1408.6,323.9 1413,323.9 1417.4,323.9 1421.9,324 1426.3,324 1430.8,324 1435.2,324 1439.6,324 1444.1,324.1 1448.5,324.1 1453,324.1 1457.4,324.1 1461.8,324.1 1466.3,324.1 1470.7,324.2 1475.2,324.2 1479.6,324.2 1484,324.2 1488.5,324.2 1492.9,324.3 1497.4,324.3 1501.8,324.3 1506.2,324.3 1510.7,324.3 1515.1,324.3 1519.6,324.4 1524,324.4 1528.4,324.4 1532.9,324.4 1537.3,324.4 1541.8,324.4 1546.2,324.5 1550.6,324.5 1555.1,324.5 1559.5,324.5 1564,324.5 1568.4,324.5 1572.8,324.6 1577.3,324.6 1581.7,324.6 1586.2,324.6 1590.6,324.6 1595,324.6 1599.5,324.6 1603.9,324.7 1608.4,324.7 1612.8,324.7 1617.2,324.7 1621.7,324.7 1626.1,324.7 1630.6,324.7 1635,324.7 1639.4,324.7 1643.9,324.7 1648.3,324.7 1652.8,324.7 1657.2,324.7 1661.6,324.6 1666.1,324.6 1670.5,324.5 1675,324.5 1679.4,324.4 1683.8,324.3 1688.3,324.1 1692.7,323.7 1697.2,322.9 1701.6,321.4 1706,318.5 1710.5,313.5 1714.9,306.2 1719.4,296.6 1723.8,286.4 1728.2,277.9 1732.7,274.2 1737.1,277 1741.6,285 1746,295.3 1750.4,305.1 1754.9,312.8 1759.3,318.1 1763.8,321.3 1768.2,323 1772.6,323.9 1777.1,324.4 1781.5,324.6 1786,324.8 1790.4,324.9 1794.8,325 1799.3,325.1 1803.7,325.2 1808.2,325.3 1812.6,325.3 1817,325.4 1821.5,325.4 1825.9,325.4 1830.4,325.5 1834.8,325.5 1839.2,325.6 1843.7,325.6 1848.1,325.6 1852.6,325.6 1857,325.7 1861.4,325.7 1865.9,325.7 1870.3,325.7 1874.8,325.8 1879.2,325.8 1883.6,325.8 1888.1,325.8 1892.5,325.8 1897,325.9 1901.4,325.9 1905.8,325.9 1910.3,325.9 1914.7,325.9 1919.2,326 1923.6,326 1928,326 1932.5,326 1936.9,326 1941.4,326 1945.8,326.1" fill="none" stroke="#f00" stroke-width="6" stroke-linejoin="round" marker-start="url(#iR)" marker-mid="url(#iR)" marker-end="url(#iR)"/>
<polyline points="1080,324.8 1093.5,324.9 1107,324.9 1120.5,325 1134,325 1147.5,325.1 1161,325.1 1174.5,325.2 1188,325.2 1201.5,325.3 1215,325.3 1228.5,325.3 1242,325.2 1255.5,325 1264.5,324.5 1267.5,324.1 1269,323.7 1270.5,323.3 1272,322.6 1273.5,321.8 1275,320.7 1276.5,319.3 1278,317.6 1279.5,315.4 1281,312.8 1282.5,309.6 1284,305.8 1285.5,301.5 1287,296.6 1288.5,291.2 1290,285.3 1291.5,279 1293,272.6 1294.5,266.2 1296,260 1297.5,254.2 1299,249.1 1300.5,244.9 1302,241.9 1303.5,240.2 1305,239.9 1306.5,241 1308,243.4 1309.5,247.1 1311,251.8 1312.5,257.3 1314,263.3 1315.5,269.7 1317,276.2 1318.5,282.5 1320,288.6 1321.5,294.3 1323,299.4 1324.5,304.1 1326,308.1 1327.5,311.6 1329,314.5 1330.5,316.9 1332,318.8 1333.5,320.4 1335,321.6 1336.5,322.6 1338,323.3 1339.5,323.8 1341,324.3 1344,324.8 1348.5,325.2 1357.5,325.6 1371,325.8 1384.5,326 1398,326.1 1411.5,326.2 1425,326.3 1438.5,326.4 1452,326.5 1465.5,326.5 1479,326.6 1492.5,326.6 1506,326.7 1519.5,326.8 1533,326.8 1546.5,326.9 1560,326.9 1573.5,327 1587,327.1 1600.5,327.1 1614,327.2 1627.5,327.2 1641,327.2 1654.5,327.3 1668,327.3 1681.5,327.2 1693.5,326.8 1698,326.2 1699.5,325.9 1701,325.4 1702.5,324.8 1704,324 1705.5,323 1707,321.8 1708.5,320.3 1710,318.4 1711.5,316.2 1713,313.6 1714.5,310.6 1716,307.3 1717.5,303.6 1719,299.7 1720.5,295.6 1722,291.4 1723.5,287.2 1725,283.3 1726.5,279.7 1728,276.6 1729.5,274.2 1731,272.5 1732.5,271.8 1734,271.9 1735.5,273 1737,274.9 1738.5,277.6 1740,280.9 1741.5,284.7 1743,288.7 1744.5,292.9 1746,297.1 1747.5,301.2 1749,305 1750.5,308.6 1752,311.8 1753.5,314.7 1755,317.2 1756.5,319.3 1758,321 1759.5,322.5 1761,323.6 1762.5,324.6 1764,325.3 1765.5,325.9 1767,326.3 1770,326.9 1774.5,327.3 1785,327.6 1798.5,327.8 1812,328 1825.5,328.1 1839,328.2 1852.5,328.2 1866,328.3 1879.5,328.4 1893,328.4 1906.5,328.5 1920,328.6 1933.5,328.6 1945.5,328.7" fill="none" stroke="#000" stroke-width="10.4" stroke-linejoin="round" stroke-linecap="butt"/>
</g>
<g clip-path="url(#cB)">
<polyline points="270,1714.1 272.8,1714.1 275.7,1714.1 278.5,1714.1 281.4,1714.1 284.2,1714.1 287,1714.1 289.9,1714.1 292.7,1714.1 295.6,1714.1 298.4,1714.1 301.2,1714.1 304.1,1714.1 306.9,1714.1 309.8,1714.1 312.6,1714.1 315.4,1714.1 318.3,1714.1 321.1,1714.1 324,1714.1 326.8,1714.1 329.6,1714.1 332.5,1714.1 335.3,1714.1 338.2,1714.1 341,1714.1 343.8,1714.1 346.7,1714.1 349.5,1714.1 352.4,1714.1 355.2,1714.1 358,1714.1 360.9,1714.1 363.7,1714.1 366.6,1714.1 369.4,1714.1 372.2,1714.1 375.1,1714 377.9,1714 380.8,1713.9 383.6,1713.8 386.4,1713.7 389.3,1713.3 392.1,1712.6 395,1710 396.4,1705.8 397.8,1696.6 399.2,1682.8 400.6,1672 402.1,1676.1 403.5,1690 404.9,1701.9 406.3,1708.2 407.7,1711.1 410.6,1712.8 413.4,1713.4 416.3,1713.7 419.1,1713.9 421.9,1714 424.8,1714 427.6,1714.1 430.5,1714.1 433.3,1714.1 436.1,1714.1 439,1714.1 441.8,1714.1 444.7,1714.1 447.5,1714.1 450.3,1714.1 453.2,1714.1 456,1714.1 458.9,1714 461.7,1714 464.5,1714 467.4,1713.9 470.2,1713.7 473.1,1713.3 475.9,1712.3 477.3,1710.9 478.7,1707.7 480.2,1700.6 481.6,1690.5 483,1683.5 484.4,1687.8 485.8,1697.9 487.3,1706.1 488.7,1710.2 490.1,1712.1 492.9,1713.2 495.8,1713.6 498.6,1713.8 501.5,1713.9 504.3,1714 507.1,1714 510,1714.1 512.8,1714.1 515.7,1714.1 518.5,1714.1 521.3,1714.1 524.2,1714.1 527,1714.1 529.9,1714.1 532.7,1714.1 535.5,1714.1 538.4,1714.1 541.2,1714.1 544.1,1714.1 546.9,1714.1 549.7,1714.1 552.6,1714.1 555.4,1714.1 558.3,1714.1 561.1,1714.1 563.9,1714.1 566.8,1714.1 569.6,1714.1 572.5,1714.1 575.3,1714.1 578.1,1714.1 581,1714.1 583.8,1714.1 586.7,1714.1 589.5,1714.1 592.3,1714.1 595.2,1714.1 598,1714.1 600.9,1714.1 603.7,1714.1 606.5,1714.1 609.4,1714.1 612.2,1714.1 615.1,1714.1 617.9,1714.1 620.7,1714.1 623.6,1714.1 626.4,1714.1 629.3,1714.1 632.1,1714.1 634.9,1714.1 637.8,1714.1 640.6,1714.1 643.5,1714.1 646.3,1714.1 649.1,1714.1 652,1714.1 654.8,1714.1 657.7,1714.1 660.5,1714.1 663.3,1714.1 666.2,1714.1 669,1714.1 671.9,1714.1 674.7,1714.1 677.5,1714.1 680.4,1714.1 683.2,1714.1 686.1,1714.1 688.9,1714.1 691.7,1714.1 694.6,1714.1 697.4,1714.1 700.3,1714 703.1,1714 705.9,1713.9 708.8,1713.7 711.6,1713.4 714.5,1713 717.3,1712.2 720.1,1710.9 723,1708.7 725.8,1705.1 727.2,1701.9 729.2,1677.7 730.8,1665.4 732.3,1643 734.6,1599.2 735.4,1505.8 737.4,1170.5 738.8,1048 740.5,1115.7 741.5,1319.2 743.5,1577 744.6,1631.5 746.2,1660 747.7,1675.4 750,1700.7 751.4,1704.3 752.8,1706.8 754.2,1708.3 757.1,1710.7 759.9,1712.1 762.7,1712.9 765.6,1713.4 768.4,1713.7 771.3,1713.9 774.1,1714 776.9,1714 779.8,1714.1 782.6,1714.1 785.5,1714.1 788.3,1714.1 791.1,1714.1 794,1714.1 796.8,1714.1 799.7,1714.1 802.5,1714.1 805.3,1714.1 808.2,1714.1 811,1714.1 813.9,1714.1 816.7,1714.1 819.5,1714.1 822.4,1714.1 825.2,1714.1 828.1,1714.1 830.9,1714.1 833.7,1714.1 836.6,1714.1 839.4,1714.1 842.3,1714.1 845.1,1714.1 847.9,1714.1 850.8,1714.1 853.6,1714.1 856.5,1714.1 859.3,1714.1 862.1,1714.1 865,1714.1 867.8,1714.1 870.7,1714 873.5,1714 876.3,1713.9 879.2,1713.7 882,1713.4 884.9,1711.9 886.3,1709.4 887.7,1705.2 889.1,1699.7 890.5,1697.5 892,1701.4 893.4,1707 894.8,1710.5 896.2,1712.4 899.1,1713.5 901.9,1713.8 904.7,1713.9 907.6,1714 910.4,1714 913.3,1714 916.1,1714 918.9,1714 921.8,1714 924.6,1713.9 927.5,1713.5 930.3,1711.5 931.7,1709.6 933.1,1708.1 936,1710.8 937.4,1712.4 940.2,1713.7 943.1,1713.9 945.9,1714 948.8,1714 951.6,1714.1 954.4,1714.1 957.3,1714.1 960.1,1714.1 963,1714.1 965.8,1714.1 968.6,1714.1 971.5,1714.1 974.3,1714.1 977.2,1714.1 980,1714.1 982.8,1714.1 985.7,1714.1 988.5,1714.1 991.4,1714.1 994.2,1714.1 997,1714.1 999.9,1714.1 1002.7,1714.1 1005.6,1714.1 1008.4,1714.1 1011.2,1714.1 1014.1,1714.1 1016.9,1714.1 1019.8,1714.1 1022.6,1714.1 1025.4,1714.1 1028.3,1714.1 1031.1,1714.1 1034,1714.1 1036.8,1714.1 1039.6,1714.1 1042.5,1714.1 1045.3,1714.1 1048.2,1714.1 1051,1714.1 1053.8,1714.1 1056.7,1714.1 1059.5,1714.1 1062.4,1714.1 1065.2,1714.1 1068,1714 1070.9,1714 1073.7,1713.9 1076.6,1713.8 1079.4,1713.7 1082.2,1713.4 1085.1,1712.8 1087.9,1711.8 1090.8,1709.2 1091.9,1698 1094.5,1686.6 1095.6,1643.6 1100.7,1613.7 1101.6,1629.5 1102.9,1657.6 1104.6,1692 1107.7,1700.7 1109.2,1711.8 1112.1,1712.9 1114.9,1713.4 1117.7,1713.7 1120.6,1713.8 1123.4,1714 1126.3,1714 1129.1,1714 1131.9,1714.1 1134.8,1714.1 1137.6,1714.1 1140.5,1714.1 1143.3,1714.1 1146.1,1714.1 1149,1714.1 1151.8,1714.1 1154.7,1714.1 1157.5,1714.1 1160.3,1714.1 1163.2,1714.1 1166,1714.1 1168.9,1714.1 1171.7,1714.1 1174.5,1714.1 1177.4,1714.1 1180.2,1714.1 1183.1,1714.1 1185.9,1714.1 1188.7,1714.1 1191.6,1714.1 1194.4,1714 1197.3,1714 1200.1,1713.9 1202.9,1713.7 1205.8,1712.6 1207.2,1711.1 1208.6,1709.1 1211.5,1709.3 1212.9,1711.2 1214.3,1712.7 1217.1,1713.7 1220,1713.9 1222.8,1714 1225.7,1714 1228.5,1714 1231.3,1714 1234.2,1713.9 1237,1713.7 1239.9,1712.5 1241.3,1710.8 1242.7,1708.1 1244.1,1706.1 1247,1709 1248.4,1711.5 1251.2,1713.5 1254.1,1713.8 1256.9,1714 1259.7,1714 1262.6,1714.1 1265.4,1714.1 1268.3,1714.1 1271.1,1714.1 1273.9,1714.1 1276.8,1714.1 1279.6,1714.1 1282.5,1714.1 1285.3,1714.1 1288.1,1714.1 1291,1714.1 1293.8,1714.1 1296.7,1714.1 1299.5,1714.1 1302.3,1714.1 1305.2,1714.1 1308,1714.1 1310.9,1714.1 1313.7,1714.1 1316.5,1714.1 1319.4,1714.1 1322.2,1714.1 1325.1,1714.1 1327.9,1714.1 1330.7,1714.1 1333.6,1714.1 1336.4,1714.1 1339.3,1714.1 1342.1,1714.1 1344.9,1714 1347.8,1714 1350.6,1713.9 1353.5,1713.8 1356.3,1713.5 1359.1,1713.1 1362,1712.4 1364.8,1711.2 1366.2,1693 1369.2,1684.3 1372.3,1667.7 1372.9,1598.2 1374.2,1557.5 1377.8,1536.6 1378.5,1547.1 1380.9,1584.6 1382.2,1660.9 1384,1681.8 1386.5,1693 1387.5,1709.9 1390.4,1711.8 1393.2,1712.8 1396.1,1713.3 1398.9,1713.6 1401.7,1713.8 1404.6,1713.9 1407.4,1714 1410.3,1714 1413.1,1714.1 1415.9,1714.1 1418.8,1714.1 1421.6,1714.1 1424.5,1714.1 1427.3,1714.1 1430.1,1714.1 1433,1714.1 1435.8,1714.1 1438.7,1714.1 1441.5,1714.1 1444.3,1714.1 1447.2,1714.1 1450,1714.1 1452.9,1714.1 1455.7,1714 1458.5,1713.9 1461.4,1713.6 1464.2,1712.1 1467.1,1710.1 1469.9,1712.2 1472.7,1713.7 1475.6,1713.9 1478.4,1714 1481.3,1714.1 1484.1,1714.1 1486.9,1714.1 1489.8,1714.1 1492.6,1714.1 1495.5,1714.1 1498.3,1714.1 1501.1,1714.1 1504,1714.1 1506.8,1714.1 1509.7,1714.1 1512.5,1714.1 1515.3,1714.1 1518.2,1714.1 1521,1714.1 1523.9,1714.1 1526.7,1714.1 1529.5,1714.1 1532.4,1714.1 1535.2,1714.1 1538.1,1714.1 1540.9,1714.1 1543.7,1714.1 1546.6,1714.1 1549.4,1714.1 1552.3,1714.1 1555.1,1714.1 1557.9,1714.1 1560.8,1714.1 1563.6,1714.1 1566.5,1714.1 1569.3,1714.1 1572.1,1714.1 1575,1714.1 1577.8,1714.1 1580.7,1714.1 1583.5,1714 1586.3,1714 1589.2,1714 1592,1713.9 1594.9,1713.7 1597.7,1713.4 1600.5,1712.7 1603.4,1710.9 1604.8,1708.2 1606.2,1701.3 1607.6,1688.6 1609.1,1673.3 1610.5,1667.8 1611.9,1679 1613.3,1694.2 1614.7,1704.6 1616.2,1709.4 1617.6,1711.5 1620.4,1712.9 1623.3,1713.5 1626.1,1713.7 1628.9,1713.9 1631.8,1714 1634.6,1714 1637.5,1714.1 1640.3,1714.1 1643.1,1714.1 1646,1714.1 1648.8,1714.1 1651.7,1714.1 1654.5,1714.1 1657.3,1714.1 1660.2,1714.1 1663,1714.1 1665.9,1714.1 1668.7,1714.1 1671.5,1714.1 1674.4,1714.1 1677.2,1714.1 1680.1,1714 1682.9,1714 1685.7,1713.7 1688.6,1712.3 1691.4,1711.1 1694.3,1712.9 1697.1,1713.8 1699.9,1714 1702.8,1714 1705.6,1714 1708.5,1713.8 1711.3,1713.1 1714.1,1710.8 1717,1710.9 1719.8,1713.2 1722.7,1713.9 1725.5,1714 1728.3,1714 1731.2,1714.1 1734,1714.1 1736.9,1714.1 1739.7,1714.1 1742.5,1714.1 1745.4,1714.1 1748.2,1714.1 1751.1,1714.1 1753.9,1714.1 1756.7,1714.1 1759.6,1714.1 1762.4,1714.1 1765.3,1714.1 1768.1,1714.1 1770.9,1714.1 1773.8,1714.1 1776.6,1714.1 1779.5,1714.1 1782.3,1714.1 1785.1,1714.1 1788,1714.1 1790.8,1714 1793.7,1714 1796.5,1713.9 1799.3,1713.8 1802.2,1713.5 1805,1713.1 1807.9,1712.2 1810.7,1709.3 1812.1,1704.5 1813.5,1693.6 1815,1676.1 1816.4,1659.7 1817.8,1661.1 1819.2,1678.5 1820.6,1695.4 1822.1,1705.4 1823.5,1709.6 1824.9,1711.5 1827.7,1712.8 1830.6,1713.4 1833.4,1713.7 1836.3,1713.9 1839.1,1714 1841.9,1714 1844.8,1714 1847.6,1714.1 1850.5,1714.1 1853.3,1714.1 1856.1,1714.1 1859,1714.1 1861.8,1714.1 1864.7,1714.1 1867.5,1714.1 1870.3,1714.1 1873.2,1714.1 1876,1714.1 1878.9,1714.1 1881.7,1714 1884.5,1713.9 1887.4,1713.3 1890.2,1713.2 1893.1,1713.8 1895.9,1714 1898.7,1714.1 1901.6,1714.1 1904.4,1714 1907.3,1713.9 1910.1,1713.4 1912.9,1713.2 1915.8,1713.8 1918.6,1714 1921.5,1714.1 1924.3,1714.1 1927.1,1714.1 1930,1714.1 1932.8,1714.1 1935.7,1714.1 1938.5,1714.1 1941.3,1714.1 1944.2,1714.1 1947,1714.1 1949.9,1714.1 1952.7,1714.1 1955.5,1714.1 1958.4,1714.1 1961.2,1714.1 1964.1,1714.1 1966.9,1714.1 1969.7,1714.1 1972.6,1714.1 1975.4,1714.1" fill="none" stroke="#f00" stroke-width="5.6" stroke-linejoin="round" marker-start="url(#mBr)" marker-mid="url(#mBr)" marker-end="url(#mBr)"/>
<polyline points="270,1713.6 272.8,1713.6 275.7,1713.6 278.5,1713.6 281.4,1713.6 284.2,1713.6 287,1713.6 289.9,1713.6 292.7,1713.6 295.6,1713.6 298.4,1713.6 301.2,1713.6 304.1,1713.6 306.9,1713.6 309.8,1713.6 312.6,1713.6 315.4,1713.6 318.3,1713.6 321.1,1713.6 324,1713.6 326.8,1713.6 329.6,1713.6 332.5,1713.6 335.3,1713.6 338.2,1713.6 341,1713.6 343.8,1713.6 346.7,1713.6 349.5,1713.6 352.4,1713.6 355.2,1713.6 358,1713.6 360.9,1713.6 363.7,1713.6 366.6,1713.6 369.4,1713.6 372.2,1713.6 375.1,1713.6 377.9,1713.6 380.8,1713.6 383.6,1713.5 386.4,1713.5 389.3,1713.3 392.1,1713.1 395,1712.3 396.4,1710.8 397.8,1707.8 399.2,1704.1 400.6,1700.6 403.5,1706.4 404.9,1709.5 406.3,1711.7 409.2,1713 412,1713.3 414.8,1713.4 417.7,1713.5 420.5,1713.5 423.4,1713.6 426.2,1713.6 429,1713.6 431.9,1713.6 434.7,1713.6 437.6,1713.6 440.4,1713.6 443.2,1713.6 446.1,1713.6 448.9,1713.6 451.8,1713.6 454.6,1713.6 457.4,1713.6 460.3,1713.5 463.1,1713.5 466,1713.4 468.8,1713.3 471.6,1713 474.5,1712.5 477.3,1710.4 478.7,1707.7 480.2,1700.6 481.6,1690.5 483,1683.5 484.4,1687.8 485.8,1697.9 487.3,1706.1 488.7,1709.7 490.1,1711.6 492.9,1712.7 495.8,1713.1 498.6,1713.3 501.5,1713.4 504.3,1713.5 507.1,1713.5 510,1713.6 512.8,1713.6 515.7,1713.6 518.5,1713.6 521.3,1713.6 524.2,1713.6 527,1713.6 529.9,1713.6 532.7,1713.6 535.5,1713.6 538.4,1713.6 541.2,1713.6 544.1,1713.6 546.9,1713.6 549.7,1713.6 552.6,1713.6 555.4,1713.6 558.3,1713.6 561.1,1713.6 563.9,1713.6 566.8,1713.6 569.6,1713.6 572.5,1713.6 575.3,1713.6 578.1,1713.6 581,1713.6 583.8,1713.6 586.7,1713.6 589.5,1713.6 592.3,1713.6 595.2,1713.6 598,1713.6 600.9,1713.6 603.7,1713.6 606.5,1713.6 609.4,1713.6 612.2,1713.6 615.1,1713.6 617.9,1713.6 620.7,1713.6 623.6,1713.6 626.4,1713.6 629.3,1713.6 632.1,1713.6 634.9,1713.6 637.8,1713.6 640.6,1713.6 643.5,1713.6 646.3,1713.6 649.1,1713.6 652,1713.6 654.8,1713.6 657.7,1713.6 660.5,1713.6 663.3,1713.6 666.2,1713.6 669,1713.6 671.9,1713.6 674.7,1713.6 677.5,1713.6 680.4,1713.6 683.2,1713.6 686.1,1713.6 688.9,1713.6 691.7,1713.6 694.6,1713.6 697.4,1713.6 700.3,1713.5 703.1,1713.5 705.9,1713.4 708.8,1713.2 711.6,1712.9 714.5,1712.5 717.3,1711.7 720.1,1710.4 723,1708.2 725.8,1705.1 727.2,1701.9 729.2,1677.7 730.8,1665.4 732.3,1643 734.6,1599.2 735.4,1505.8 737.4,1170.5 738.8,1048 740.5,1115.7 741.5,1319.2 743.5,1577 744.6,1631.5 746.2,1660 747.7,1675.4 750,1700.7 751.4,1704.3 752.8,1706.8 755.6,1709.2 758.5,1711 761.3,1712 764.2,1712.7 767,1713.1 769.8,1713.3 772.7,1713.4 775.5,1713.5 778.4,1713.5 781.2,1713.6 784,1713.6 786.9,1713.6 789.7,1713.6 792.6,1713.6 795.4,1713.6 798.2,1713.6 801.1,1713.6 803.9,1713.6 806.8,1713.6 809.6,1713.6 812.4,1713.6 815.3,1713.6 818.1,1713.6 821,1713.6 823.8,1713.6 826.6,1713.6 829.5,1713.6 832.3,1713.6 835.2,1713.6 838,1713.6 840.8,1713.6 843.7,1713.6 846.5,1713.6 849.4,1713.6 852.2,1713.6 855,1713.6 857.9,1713.6 860.7,1713.6 863.6,1713.6 866.4,1713.6 869.2,1713.6 872.1,1713.6 874.9,1713.5 877.8,1713.5 880.6,1713.4 883.4,1713.2 886.3,1712 887.7,1710.4 889.1,1708.4 892,1709 893.4,1711 896.2,1713 899.1,1713.4 901.9,1713.5 904.7,1713.5 907.6,1713.6 910.4,1713.6 913.3,1713.6 916.1,1713.6 918.9,1713.5 921.8,1713.5 924.6,1713.4 927.5,1713 930.3,1711 931.7,1709.1 933.1,1707.6 936,1710.3 937.4,1711.9 940.2,1713.2 943.1,1713.4 945.9,1713.5 948.8,1713.5 951.6,1713.6 954.4,1713.6 957.3,1713.6 960.1,1713.6 963,1713.6 965.8,1713.6 968.6,1713.6 971.5,1713.6 974.3,1713.6 977.2,1713.6 980,1713.6 982.8,1713.6 985.7,1713.6 988.5,1713.6 991.4,1713.6 994.2,1713.6 997,1713.6 999.9,1713.6 1002.7,1713.6 1005.6,1713.6 1008.4,1713.6 1011.2,1713.6 1014.1,1713.6 1016.9,1713.6 1019.8,1713.6 1022.6,1713.6 1025.4,1713.6 1028.3,1713.6 1031.1,1713.6 1034,1713.6 1036.8,1713.6 1039.6,1713.6 1042.5,1713.6 1045.3,1713.6 1048.2,1713.6 1051,1713.6 1053.8,1713.6 1056.7,1713.6 1059.5,1713.6 1062.4,1713.6 1065.2,1713.6 1068,1713.5 1070.9,1713.5 1073.7,1713.4 1076.6,1713.3 1079.4,1713.2 1082.2,1712.9 1085.1,1712.3 1087.9,1711.3 1090.8,1708.7 1091.9,1698 1094.5,1686.6 1095.6,1643.6 1100.7,1613.7 1101.6,1629.5 1102.9,1657.6 1104.6,1692 1107.7,1700.7 1109.2,1711.3 1112.1,1712.4 1114.9,1712.9 1117.7,1713.2 1120.6,1713.3 1123.4,1713.5 1126.3,1713.5 1129.1,1713.5 1131.9,1713.6 1134.8,1713.6 1137.6,1713.6 1140.5,1713.6 1143.3,1713.6 1146.1,1713.6 1149,1713.6 1151.8,1713.6 1154.7,1713.6 1157.5,1713.6 1160.3,1713.6 1163.2,1713.6 1166,1713.6 1168.9,1713.6 1171.7,1713.6 1174.5,1713.6 1177.4,1713.6 1180.2,1713.6 1183.1,1713.6 1185.9,1713.6 1188.7,1713.6 1191.6,1713.6 1194.4,1713.6 1197.3,1713.6 1200.1,1713.5 1202.9,1713.4 1205.8,1712.9 1208.6,1711.1 1211.5,1711.2 1214.3,1712.9 1217.1,1713.4 1220,1713.5 1222.8,1713.5 1225.7,1713.5 1228.5,1713.5 1231.3,1713.5 1234.2,1713.4 1237,1713.2 1239.9,1712 1241.3,1710.3 1242.7,1707.6 1244.1,1706.1 1247,1708.5 1248.4,1711 1251.2,1713 1254.1,1713.3 1256.9,1713.5 1259.7,1713.5 1262.6,1713.6 1265.4,1713.6 1268.3,1713.6 1271.1,1713.6 1273.9,1713.6 1276.8,1713.6 1279.6,1713.6 1282.5,1713.6 1285.3,1713.6 1288.1,1713.6 1291,1713.6 1293.8,1713.6 1296.7,1713.6 1299.5,1713.6 1302.3,1713.6 1305.2,1713.6 1308,1713.6 1310.9,1713.6 1313.7,1713.6 1316.5,1713.6 1319.4,1713.6 1322.2,1713.6 1325.1,1713.6 1327.9,1713.6 1330.7,1713.6 1333.6,1713.6 1336.4,1713.6 1339.3,1713.6 1342.1,1713.6 1344.9,1713.5 1347.8,1713.5 1350.6,1713.4 1353.5,1713.3 1356.3,1713 1359.1,1712.6 1362,1711.9 1364.8,1710.7 1366.2,1693 1369.2,1684.3 1372.3,1667.7 1372.9,1598.2 1374.2,1557.5 1377.8,1536.6 1378.5,1547.1 1380.9,1584.6 1382.2,1660.9 1384,1681.8 1386.5,1693 1387.5,1709.4 1390.4,1711.3 1393.2,1712.3 1396.1,1712.8 1398.9,1713.1 1401.7,1713.3 1404.6,1713.4 1407.4,1713.5 1410.3,1713.5 1413.1,1713.6 1415.9,1713.6 1418.8,1713.6 1421.6,1713.6 1424.5,1713.6 1427.3,1713.6 1430.1,1713.6 1433,1713.6 1435.8,1713.6 1438.7,1713.6 1441.5,1713.6 1444.3,1713.6 1447.2,1713.6 1450,1713.6 1452.9,1713.6 1455.7,1713.5 1458.5,1713.5 1461.4,1713.2 1464.2,1712.1 1467.1,1710.6 1469.9,1712.2 1472.7,1713.3 1475.6,1713.5 1478.4,1713.5 1481.3,1713.6 1484.1,1713.6 1486.9,1713.6 1489.8,1713.6 1492.6,1713.6 1495.5,1713.6 1498.3,1713.6 1501.1,1713.6 1504,1713.6 1506.8,1713.6 1509.7,1713.6 1512.5,1713.6 1515.3,1713.6 1518.2,1713.6 1521,1713.6 1523.9,1713.6 1526.7,1713.6 1529.5,1713.6 1532.4,1713.6 1535.2,1713.6 1538.1,1713.6 1540.9,1713.6 1543.7,1713.6 1546.6,1713.6 1549.4,1713.6 1552.3,1713.6 1555.1,1713.6 1557.9,1713.6 1560.8,1713.6 1563.6,1713.6 1566.5,1713.6 1569.3,1713.6 1572.1,1713.6 1575,1713.6 1577.8,1713.6 1580.7,1713.6 1583.5,1713.5 1586.3,1713.5 1589.2,1713.5 1592,1713.4 1594.9,1713.2 1597.7,1712.9 1600.5,1712.2 1603.4,1710.4 1604.8,1708.2 1606.2,1701.3 1607.6,1688.6 1609.1,1673.3 1610.5,1667.8 1611.9,1679 1613.3,1694.2 1614.7,1704.6 1616.2,1708.9 1617.6,1711 1620.4,1712.4 1623.3,1713 1626.1,1713.2 1628.9,1713.4 1631.8,1713.5 1634.6,1713.5 1637.5,1713.6 1640.3,1713.6 1643.1,1713.6 1646,1713.6 1648.8,1713.6 1651.7,1713.6 1654.5,1713.6 1657.3,1713.6 1660.2,1713.6 1663,1713.6 1665.9,1713.6 1668.7,1713.6 1671.5,1713.6 1674.4,1713.6 1677.2,1713.6 1680.1,1713.6 1682.9,1713.5 1685.7,1713.3 1688.6,1712.4 1691.4,1711.6 1694.3,1712.8 1697.1,1713.4 1699.9,1713.5 1702.8,1713.5 1705.6,1713.5 1708.5,1713.3 1711.3,1712.6 1714.1,1710.3 1717,1710.4 1719.8,1712.7 1722.7,1713.4 1725.5,1713.5 1728.3,1713.5 1731.2,1713.6 1734,1713.6 1736.9,1713.6 1739.7,1713.6 1742.5,1713.6 1745.4,1713.6 1748.2,1713.6 1751.1,1713.6 1753.9,1713.6 1756.7,1713.6 1759.6,1713.6 1762.4,1713.6 1765.3,1713.6 1768.1,1713.6 1770.9,1713.6 1773.8,1713.6 1776.6,1713.6 1779.5,1713.6 1782.3,1713.6 1785.1,1713.6 1788,1713.6 1790.8,1713.5 1793.7,1713.5 1796.5,1713.4 1799.3,1713.3 1802.2,1713 1805,1712.6 1807.9,1711.7 1810.7,1708.8 1812.1,1704.5 1813.5,1693.6 1815,1676.1 1816.4,1659.7 1817.8,1661.1 1819.2,1678.5 1820.6,1695.4 1822.1,1705.4 1823.5,1709.1 1824.9,1711 1827.7,1712.3 1830.6,1712.9 1833.4,1713.2 1836.3,1713.4 1839.1,1713.5 1841.9,1713.5 1844.8,1713.5 1847.6,1713.6 1850.5,1713.6 1853.3,1713.6 1856.1,1713.6 1859,1713.6 1861.8,1713.6 1864.7,1713.6 1867.5,1713.6 1870.3,1713.6 1873.2,1713.6 1876,1713.6 1878.9,1713.6 1881.7,1713.6 1884.5,1713.6 1887.4,1713.6 1890.2,1713.6 1893.1,1713.6 1895.9,1713.6 1898.7,1713.6 1901.6,1713.6 1904.4,1713.6 1907.3,1713.6 1910.1,1713.6 1912.9,1713.6 1915.8,1713.6 1918.6,1713.6 1921.5,1713.6 1924.3,1713.6 1927.1,1713.6 1930,1713.6 1932.8,1713.6 1935.7,1713.6 1938.5,1713.6 1941.3,1713.6 1944.2,1713.6 1947,1713.6 1949.9,1713.6 1952.7,1713.6 1955.5,1713.6 1958.4,1713.6 1961.2,1713.6 1964.1,1713.6 1966.9,1713.6 1969.7,1713.6 1972.6,1713.6 1975.4,1713.6" fill="none" stroke="#000" stroke-width="2.4" stroke-linejoin="round" marker-start="url(#mBk)" marker-mid="url(#mBk)" marker-end="url(#mBk)"/>
<polyline points="270,1712.8 272.8,1712.8 275.7,1712.8 278.5,1712.8 281.4,1712.8 284.2,1712.8 287,1712.8 289.9,1712.8 292.7,1712.8 295.6,1712.8 298.4,1712.8 301.2,1712.8 304.1,1712.8 306.9,1712.8 309.8,1712.8 312.6,1712.8 315.4,1712.8 318.3,1712.8 321.1,1712.8 324,1712.8 326.8,1712.8 329.6,1712.8 332.5,1712.8 335.3,1712.8 338.2,1712.8 341,1712.8 343.8,1712.8 346.7,1712.8 349.5,1712.8 352.4,1712.8 355.2,1712.8 358,1712.8 360.9,1712.8 363.7,1712.8 366.6,1712.8 369.4,1712.8 372.2,1712.8 375.1,1712.8 377.9,1712.8 380.8,1712.8 383.6,1712.8 386.4,1712.8 389.3,1712.8 392.1,1712.8 395,1712.8 397.8,1712.8 400.6,1712.8 403.5,1712.8 406.3,1712.8 409.2,1712.8 412,1712.8 414.8,1712.8 417.7,1712.8 420.5,1712.8 423.4,1712.8 426.2,1712.8 429,1712.8 431.9,1712.8 434.7,1712.8 437.6,1712.8 440.4,1712.8 443.2,1712.8 446.1,1712.8 448.9,1712.8 451.8,1712.8 454.6,1712.8 457.4,1712.8 460.3,1712.7 463.1,1712.7 466,1712.6 468.8,1712.5 471.6,1712.2 474.5,1711.7 477.3,1709.6 478.7,1707.7 480.2,1700.6 481.6,1690.5 483,1683.5 484.4,1687.8 485.8,1697.9 487.3,1706.1 488.7,1708.9 490.1,1710.8 492.9,1711.9 495.8,1712.3 498.6,1712.5 501.5,1712.6 504.3,1712.7 507.1,1712.7 510,1712.8 512.8,1712.8 515.7,1712.8 518.5,1712.8 521.3,1712.8 524.2,1712.8 527,1712.8 529.9,1712.8 532.7,1712.8 535.5,1712.8 538.4,1712.8 541.2,1712.8 544.1,1712.8 546.9,1712.8 549.7,1712.8 552.6,1712.8 555.4,1712.8 558.3,1712.8 561.1,1712.8 563.9,1712.8 566.8,1712.8 569.6,1712.8 572.5,1712.8 575.3,1712.8 578.1,1712.8 581,1712.8 583.8,1712.8 586.7,1712.8 589.5,1712.8 592.3,1712.8 595.2,1712.8 598,1712.8 600.9,1712.8 603.7,1712.8 606.5,1712.8 609.4,1712.8 612.2,1712.8 615.1,1712.8 617.9,1712.8 620.7,1712.8 623.6,1712.8 626.4,1712.8 629.3,1712.8 632.1,1712.8 634.9,1712.8 637.8,1712.8 640.6,1712.8 643.5,1712.8 646.3,1712.8 649.1,1712.8 652,1712.8 654.8,1712.8 657.7,1712.8 660.5,1712.8 663.3,1712.8 666.2,1712.8 669,1712.8 671.9,1712.8 674.7,1712.8 677.5,1712.8 680.4,1712.8 683.2,1712.8 686.1,1712.8 688.9,1712.8 691.7,1712.8 694.6,1712.8 697.4,1712.8 700.3,1712.7 703.1,1712.7 705.9,1712.6 708.8,1712.4 711.6,1712.1 714.5,1711.7 717.3,1710.9 720.1,1709.6 723,1707.4 725.8,1705.1 727.2,1701.9 729.2,1677.7 730.8,1665.4 732.3,1643 734.6,1599.2 735.4,1505.8 737.4,1170.5 738.8,1048 740.5,1115.7 741.5,1319.2 743.5,1577 744.6,1631.5 746.2,1660 747.7,1675.4 750,1700.7 751.4,1704.3 752.8,1706.8 755.6,1708.4 758.5,1710.2 761.3,1711.2 764.2,1711.9 767,1712.3 769.8,1712.5 772.7,1712.6 775.5,1712.7 778.4,1712.7 781.2,1712.8 784,1712.8 786.9,1712.8 789.7,1712.8 792.6,1712.8 795.4,1712.8 798.2,1712.8 801.1,1712.8 803.9,1712.8 806.8,1712.8 809.6,1712.8 812.4,1712.8 815.3,1712.8 818.1,1712.8 821,1712.8 823.8,1712.8 826.6,1712.8 829.5,1712.8 832.3,1712.8 835.2,1712.8 838,1712.8 840.8,1712.8 843.7,1712.8 846.5,1712.8 849.4,1712.8 852.2,1712.8 855,1712.8 857.9,1712.8 860.7,1712.8 863.6,1712.8 866.4,1712.8 869.2,1712.8 872.1,1712.8 874.9,1712.8 877.8,1712.8 880.6,1712.8 883.4,1712.8 886.3,1712.8 889.1,1712.8 892,1712.8 894.8,1712.8 897.6,1712.8 900.5,1712.8 903.3,1712.8 906.2,1712.8 909,1712.8 911.8,1712.8 914.7,1712.8 917.5,1712.8 920.4,1712.7 923.2,1712.6 926,1712.5 928.9,1711.5 931.7,1708.3 933.1,1706.8 936,1709.5 937.4,1711.1 940.2,1712.4 943.1,1712.6 945.9,1712.7 948.8,1712.7 951.6,1712.8 954.4,1712.8 957.3,1712.8 960.1,1712.8 963,1712.8 965.8,1712.8 968.6,1712.8 971.5,1712.8 974.3,1712.8 977.2,1712.8 980,1712.8 982.8,1712.8 985.7,1712.8 988.5,1712.8 991.4,1712.8 994.2,1712.8 997,1712.8 999.9,1712.8 1002.7,1712.8 1005.6,1712.8 1008.4,1712.8 1011.2,1712.8 1014.1,1712.8 1016.9,1712.8 1019.8,1712.8 1022.6,1712.8 1025.4,1712.8 1028.3,1712.8 1031.1,1712.8 1034,1712.8 1036.8,1712.8 1039.6,1712.8 1042.5,1712.8 1045.3,1712.8 1048.2,1712.8 1051,1712.8 1053.8,1712.8 1056.7,1712.8 1059.5,1712.8 1062.4,1712.8 1065.2,1712.8 1068,1712.7 1070.9,1712.7 1073.7,1712.6 1076.6,1712.5 1079.4,1712.4 1082.2,1712.1 1085.1,1711.5 1087.9,1710.5 1090.8,1707.9 1091.9,1698 1094.5,1686.6 1095.6,1643.6 1100.7,1613.7 1101.6,1629.5 1102.9,1657.6 1104.6,1692 1107.7,1700.7 1109.2,1710.5 1112.1,1711.6 1114.9,1712.1 1117.7,1712.4 1120.6,1712.5 1123.4,1712.7 1126.3,1712.7 1129.1,1712.7 1131.9,1712.8 1134.8,1712.8 1137.6,1712.8 1140.5,1712.8 1143.3,1712.8 1146.1,1712.8 1149,1712.8 1151.8,1712.8 1154.7,1712.8 1157.5,1712.8 1160.3,1712.8 1163.2,1712.8 1166,1712.8 1168.9,1712.8 1171.7,1712.8 1174.5,1712.8 1177.4,1712.8 1180.2,1712.8 1183.1,1712.8 1185.9,1712.8 1188.7,1712.8 1191.6,1712.8 1194.4,1712.8 1197.3,1712.8 1200.1,1712.8 1202.9,1712.8 1205.8,1712.8 1208.6,1712.8 1211.5,1712.8 1214.3,1712.8 1217.1,1712.8 1220,1712.8 1222.8,1712.8 1225.7,1712.8 1228.5,1712.7 1231.3,1712.7 1234.2,1712.6 1237,1712.4 1239.9,1711.3 1241.3,1709.7 1242.7,1707.2 1245.5,1707.1 1248.4,1710.3 1251.2,1712.2 1254.1,1712.6 1256.9,1712.7 1259.7,1712.7 1262.6,1712.8 1265.4,1712.8 1268.3,1712.8 1271.1,1712.8 1273.9,1712.8 1276.8,1712.8 1279.6,1712.8 1282.5,1712.8 1285.3,1712.8 1288.1,1712.8 1291,1712.8 1293.8,1712.8 1296.7,1712.8 1299.5,1712.8 1302.3,1712.8 1305.2,1712.8 1308,1712.8 1310.9,1712.8 1313.7,1712.8 1316.5,1712.8 1319.4,1712.8 1322.2,1712.8 1325.1,1712.8 1327.9,1712.8 1330.7,1712.8 1333.6,1712.8 1336.4,1712.8 1339.3,1712.8 1342.1,1712.8 1344.9,1712.7 1347.8,1712.7 1350.6,1712.6 1353.5,1712.5 1356.3,1712.2 1359.1,1711.8 1362,1711.1 1364.8,1709.9 1366.2,1693 1369.2,1684.3 1372.3,1667.7 1372.9,1598.2 1374.2,1557.5 1377.8,1536.6 1378.5,1547.1 1380.9,1584.6 1382.2,1660.9 1384,1681.8 1386.5,1693 1387.5,1708.6 1390.4,1710.5 1393.2,1711.5 1396.1,1712 1398.9,1712.3 1401.7,1712.5 1404.6,1712.6 1407.4,1712.7 1410.3,1712.7 1413.1,1712.8 1415.9,1712.8 1418.8,1712.8 1421.6,1712.8 1424.5,1712.8 1427.3,1712.8 1430.1,1712.8 1433,1712.8 1435.8,1712.8 1438.7,1712.8 1441.5,1712.8 1444.3,1712.8 1447.2,1712.8 1450,1712.8 1452.9,1712.8 1455.7,1712.8 1458.5,1712.8 1461.4,1712.8 1464.2,1712.8 1467.1,1712.8 1469.9,1712.8 1472.7,1712.8 1475.6,1712.8 1478.4,1712.8 1481.3,1712.8 1484.1,1712.8 1486.9,1712.8 1489.8,1712.8 1492.6,1712.8 1495.5,1712.8 1498.3,1712.8 1501.1,1712.8 1504,1712.8 1506.8,1712.8 1509.7,1712.8 1512.5,1712.8 1515.3,1712.8 1518.2,1712.8 1521,1712.8 1523.9,1712.8 1526.7,1712.8 1529.5,1712.8 1532.4,1712.8 1535.2,1712.8 1538.1,1712.8 1540.9,1712.8 1543.7,1712.8 1546.6,1712.8 1549.4,1712.8 1552.3,1712.8 1555.1,1712.8 1557.9,1712.8 1560.8,1712.8 1563.6,1712.8 1566.5,1712.8 1569.3,1712.8 1572.1,1712.8 1575,1712.8 1577.8,1712.8 1580.7,1712.8 1583.5,1712.7 1586.3,1712.7 1589.2,1712.7 1592,1712.6 1594.9,1712.4 1597.7,1712.1 1600.5,1711.4 1603.4,1709.6 1606.2,1701.3 1607.6,1688.6 1609.1,1673.3 1610.5,1667.8 1611.9,1679 1613.3,1694.2 1614.7,1704.6 1616.2,1708.1 1617.6,1710.2 1620.4,1711.6 1623.3,1712.2 1626.1,1712.4 1628.9,1712.6 1631.8,1712.7 1634.6,1712.7 1637.5,1712.8 1640.3,1712.8 1643.1,1712.8 1646,1712.8 1648.8,1712.8 1651.7,1712.8 1654.5,1712.8 1657.3,1712.8 1660.2,1712.8 1663,1712.8 1665.9,1712.8 1668.7,1712.8 1671.5,1712.8 1674.4,1712.8 1677.2,1712.8 1680.1,1712.8 1682.9,1712.8 1685.7,1712.8 1688.6,1712.8 1691.4,1712.8 1694.3,1712.8 1697.1,1712.8 1699.9,1712.8 1702.8,1712.7 1705.6,1712.7 1708.5,1712.6 1711.3,1711.8 1714.1,1709.5 1717,1709.6 1719.8,1711.9 1722.7,1712.6 1725.5,1712.7 1728.3,1712.7 1731.2,1712.8 1734,1712.8 1736.9,1712.8 1739.7,1712.8 1742.5,1712.8 1745.4,1712.8 1748.2,1712.8 1751.1,1712.8 1753.9,1712.8 1756.7,1712.8 1759.6,1712.8 1762.4,1712.8 1765.3,1712.8 1768.1,1712.8 1770.9,1712.8 1773.8,1712.8 1776.6,1712.8 1779.5,1712.8 1782.3,1712.8 1785.1,1712.8 1788,1712.8 1790.8,1712.7 1793.7,1712.7 1796.5,1712.6 1799.3,1712.5 1802.2,1712.2 1805,1711.8 1807.9,1710.9 1810.7,1708 1812.1,1704.5 1813.5,1693.6 1815,1676.1 1816.4,1659.7 1817.8,1661.1 1819.2,1678.5 1820.6,1695.4 1822.1,1705.4 1823.5,1708.3 1824.9,1710.2 1827.7,1711.5 1830.6,1712.1 1833.4,1712.4 1836.3,1712.6 1839.1,1712.7 1841.9,1712.7 1844.8,1712.7 1847.6,1712.8 1850.5,1712.8 1853.3,1712.8 1856.1,1712.8 1859,1712.8 1861.8,1712.8 1864.7,1712.8 1867.5,1712.8 1870.3,1712.8 1873.2,1712.8 1876,1712.8 1878.9,1712.8 1881.7,1712.8 1884.5,1712.8 1887.4,1712.8 1890.2,1712.8 1893.1,1712.8 1895.9,1712.8 1898.7,1712.8 1901.6,1712.8 1904.4,1712.8 1907.3,1712.8 1910.1,1712.8 1912.9,1712.8 1915.8,1712.8 1918.6,1712.8 1921.5,1712.8 1924.3,1712.8 1927.1,1712.8 1930,1712.8 1932.8,1712.8 1935.7,1712.8 1938.5,1712.8 1941.3,1712.8 1944.2,1712.8 1947,1712.8 1949.9,1712.8 1952.7,1712.8 1955.5,1712.8 1958.4,1712.8 1961.2,1712.8 1964.1,1712.8 1966.9,1712.8 1969.7,1712.8 1972.6,1712.8 1975.4,1712.8" fill="none" stroke="#00f" stroke-width="2.4" stroke-linejoin="round" marker-start="url(#mBb)" marker-mid="url(#mBb)" marker-end="url(#mBb)"/>
<path d="M272 1704.2H469.6M497.8 1704.2H708.2M769 1704.2H924M942.2 1704.2H1078.8M1118.3 1704.2H1235M1253.2 1704.2H1354.3M1399.5 1704.2H1594.3M1626.7 1704.2H1707.9M1723.2 1704.2H1800.2M1834 1704.2H1973.4" stroke="#7878ff" stroke-width="5.5" stroke-dasharray="1.1 2.3" fill="none"/>
<polyline points="270.4,1713.8 271.8,1713.8 273.2,1713.8 274.7,1713.8 276.1,1713.8 277.5,1713.8 278.9,1713.8 280.3,1713.8 281.8,1713.8 283.2,1713.8 284.6,1713.8 286,1713.8 287.4,1713.8 288.9,1713.8 290.3,1713.8 291.7,1713.8 293.1,1713.8 294.5,1713.8 296,1713.8 297.4,1713.8 298.8,1713.8 300.2,1713.8 301.6,1713.8 303.1,1713.8 304.5,1713.8 305.9,1713.8 307.3,1713.8 308.7,1713.8 310.2,1713.8 311.6,1713.8 313,1713.8 314.4,1713.8 315.8,1713.8 317.3,1713.8 318.7,1713.8 320.1,1713.8 321.5,1713.8 322.9,1713.8 324.4,1713.8 325.8,1713.8 327.2,1713.8 328.6,1713.8 330,1713.8 331.5,1713.8 332.9,1713.8 334.3,1713.8 335.7,1713.8 337.1,1713.8 338.6,1713.8 340,1713.8 341.4,1713.8 342.8,1713.8 344.2,1713.8 345.7,1713.8 347.1,1713.8 348.5,1713.8 349.9,1713.8 351.3,1713.8 352.8,1713.8 354.2,1713.8 355.6,1713.8 357,1713.8 358.4,1713.8 359.9,1713.8 361.3,1713.8 362.7,1713.8 364.1,1713.8 365.5,1713.8 367,1713.8 368.4,1713.8 369.8,1713.8 371.2,1713.8 372.6,1713.8 374.1,1713.8 375.5,1713.8 376.9,1713.8 378.3,1713.8 379.7,1713.8 381.2,1713.8 382.6,1713.8 384,1713.8 385.4,1713.8 386.8,1713.8 388.3,1713.8 389.7,1713.8 391.1,1713.8 392.5,1713.8 393.9,1713.8 395.4,1713.8 396.8,1713.8 398.2,1713.8 399.6,1713.8 401,1713.8 402.5,1713.8 403.9,1713.8 405.3,1713.8 406.7,1713.8 408.1,1713.8 409.6,1713.8 411,1713.8 412.4,1713.8 413.8,1713.8 415.2,1713.8 416.7,1713.8 418.1,1713.8 419.5,1713.8 420.9,1713.8 422.3,1713.8 423.8,1713.8 425.2,1713.8 426.6,1713.8 428,1713.8 429.4,1713.8 430.9,1713.8 432.3,1713.8 433.7,1713.8 435.1,1713.8 436.5,1713.8 438,1713.8 439.4,1713.8 440.8,1713.8 442.2,1713.8 443.6,1713.8 445.1,1713.8 446.5,1713.8 447.9,1713.8 449.3,1713.8 450.7,1713.8 452.2,1713.8 453.6,1713.8 455,1713.8 456.4,1713.8 457.8,1713.8 459.3,1713.7 460.7,1713.7 462.1,1713.7 463.5,1713.7 464.9,1713.7 466.4,1713.6 467.8,1713.6 469.2,1713.5 470.6,1713.4 472,1713.2 473.5,1713 474.9,1712.7 476.3,1712 477.7,1710.6 479.1,1707.7 480.6,1700.6 482,1690.5 483.4,1683.5 484.8,1687.8 486.2,1697.9 487.7,1706.1 489.1,1709.9 490.5,1711.8 491.9,1712.5 493.3,1712.9 494.8,1713.2 496.2,1713.3 497.6,1713.4 499,1713.5 500.4,1713.6 501.9,1713.6 503.3,1713.7 504.7,1713.7 506.1,1713.7 507.5,1713.7 509,1713.8 510.4,1713.8 511.8,1713.8 513.2,1713.8 514.6,1713.8 516.1,1713.8 517.5,1713.8 518.9,1713.8 520.3,1713.8 521.7,1713.8 523.2,1713.8 524.6,1713.8 526,1713.8 527.4,1713.8 528.8,1713.8 530.3,1713.8 531.7,1713.8 533.1,1713.8 534.5,1713.8 535.9,1713.8 537.4,1713.8 538.8,1713.8 540.2,1713.8 541.6,1713.8 543,1713.8 544.5,1713.8 545.9,1713.8 547.3,1713.8 548.7,1713.8 550.1,1713.8 551.6,1713.8 553,1713.8 554.4,1713.8 555.8,1713.8 557.2,1713.8 558.7,1713.8 560.1,1713.8 561.5,1713.8 562.9,1713.8 564.3,1713.8 565.8,1713.8 567.2,1713.8 568.6,1713.8 570,1713.8 571.4,1713.8 572.9,1713.8 574.3,1713.8 575.7,1713.8 577.1,1713.8 578.5,1713.8 580,1713.8 581.4,1713.8 582.8,1713.8 584.2,1713.8 585.6,1713.8 587.1,1713.8 588.5,1713.8 589.9,1713.8 591.3,1713.8 592.7,1713.8 594.2,1713.8 595.6,1713.8 597,1713.8 598.4,1713.8 599.8,1713.8 601.3,1713.8 602.7,1713.8 604.1,1713.8 605.5,1713.8 606.9,1713.8 608.4,1713.8 609.8,1713.8 611.2,1713.8 612.6,1713.8 614,1713.8 615.5,1713.8 616.9,1713.8 618.3,1713.8 619.7,1713.8 621.1,1713.8 622.6,1713.8 624,1713.8 625.4,1713.8 626.8,1713.8 628.2,1713.8 629.7,1713.8 631.1,1713.8 632.5,1713.8 633.9,1713.8 635.3,1713.8 636.8,1713.8 638.2,1713.8 639.6,1713.8 641,1713.8 642.4,1713.8 643.9,1713.8 645.3,1713.8 646.7,1713.8 648.1,1713.8 649.5,1713.8 651,1713.8 652.4,1713.8 653.8,1713.8 655.2,1713.8 656.6,1713.8 658.1,1713.8 659.5,1713.8 660.9,1713.8 662.3,1713.8 663.7,1713.8 665.2,1713.8 666.6,1713.8 668,1713.8 669.4,1713.8 670.8,1713.8 672.3,1713.8 673.7,1713.8 675.1,1713.8 676.5,1713.8 677.9,1713.8 679.4,1713.8 680.8,1713.8 682.2,1713.8 683.6,1713.8 685,1713.8 686.5,1713.8 687.9,1713.8 689.3,1713.8 690.7,1713.8 692.1,1713.8 693.6,1713.8 695,1713.8 696.4,1713.8 697.8,1713.8 699.2,1713.8 700.7,1713.7 702.1,1713.7 703.5,1713.7 704.9,1713.6 706.3,1713.6 707.8,1713.5 709.2,1713.4 710.6,1713.3 712,1713.1 713.4,1712.9 714.9,1712.7 716.3,1712.4 717.7,1711.9 719.1,1711.4 720.5,1710.6 722,1709.7 723.4,1708.4 724.8,1707.4 726.2,1705.1 727.6,1701.9 729.6,1677.7 731.2,1665.4 732.7,1643 735,1599.2 735.8,1505.8 737.8,1170.5 739.2,1048 740.9,1115.7 741.9,1319.2 743.9,1577 745,1631.5 746.6,1660 748.1,1675.4 750.4,1700.7 751.8,1704.3 753.2,1706.8 754.6,1708 756,1709.4 757.5,1710.4 758.9,1711.2 760.3,1711.8 761.7,1712.2 763.1,1712.6 764.6,1712.9 766,1713.1 767.4,1713.3 768.8,1713.4 770.2,1713.5 771.7,1713.6 773.1,1713.6 774.5,1713.7 775.9,1713.7 777.3,1713.7 778.8,1713.7 780.2,1713.8 781.6,1713.8 783,1713.8 784.4,1713.8 785.9,1713.8 787.3,1713.8 788.7,1713.8 790.1,1713.8 791.5,1713.8 793,1713.8 794.4,1713.8 795.8,1713.8 797.2,1713.8 798.6,1713.8 800.1,1713.8 801.5,1713.8 802.9,1713.8 804.3,1713.8 805.7,1713.8 807.2,1713.8 808.6,1713.8 810,1713.8 811.4,1713.8 812.8,1713.8 814.3,1713.8 815.7,1713.8 817.1,1713.8 818.5,1713.8 819.9,1713.8 821.4,1713.8 822.8,1713.8 824.2,1713.8 825.6,1713.8 827,1713.8 828.5,1713.8 829.9,1713.8 831.3,1713.8 832.7,1713.8 834.1,1713.8 835.6,1713.8 837,1713.8 838.4,1713.8 839.8,1713.8 841.2,1713.8 842.7,1713.8 844.1,1713.8 845.5,1713.8 846.9,1713.8 848.3,1713.8 849.8,1713.8 851.2,1713.8 852.6,1713.8 854,1713.8 855.4,1713.8 856.9,1713.8 858.3,1713.8 859.7,1713.8 861.1,1713.8 862.5,1713.8 864,1713.8 865.4,1713.8 866.8,1713.8 868.2,1713.8 869.6,1713.8 871.1,1713.8 872.5,1713.8 873.9,1713.8 875.3,1713.8 876.7,1713.8 878.2,1713.8 879.6,1713.8 881,1713.8 882.4,1713.8 883.8,1713.8 885.3,1713.8 886.7,1713.8 888.1,1713.8 889.5,1713.8 890.9,1713.8 892.4,1713.8 893.8,1713.8 895.2,1713.8 896.6,1713.8 898,1713.8 899.5,1713.8 900.9,1713.8 902.3,1713.8 903.7,1713.8 905.1,1713.8 906.6,1713.8 908,1713.8 909.4,1713.8 910.8,1713.8 912.2,1713.8 913.7,1713.8 915.1,1713.8 916.5,1713.8 917.9,1713.8 919.3,1713.7 920.8,1713.7 922.2,1713.7 923.6,1713.6 925,1713.6 926.4,1713.5 927.9,1713.2 929.3,1712.5 930.7,1711.2 932.1,1709.3 933.5,1707.8 935,1708.6 936.4,1710.5 937.8,1712.1 939.2,1713 940.6,1713.4 942.1,1713.6 943.5,1713.6 944.9,1713.7 946.3,1713.7 947.7,1713.7 949.2,1713.7 950.6,1713.8 952,1713.8 953.4,1713.8 954.8,1713.8 956.3,1713.8 957.7,1713.8 959.1,1713.8 960.5,1713.8 961.9,1713.8 963.4,1713.8 964.8,1713.8 966.2,1713.8 967.6,1713.8 969,1713.8 970.5,1713.8 971.9,1713.8 973.3,1713.8 974.7,1713.8 976.1,1713.8 977.6,1713.8 979,1713.8 980.4,1713.8 981.8,1713.8 983.2,1713.8 984.7,1713.8 986.1,1713.8 987.5,1713.8 988.9,1713.8 990.3,1713.8 991.8,1713.8 993.2,1713.8 994.6,1713.8 996,1713.8 997.4,1713.8 998.9,1713.8 1000.3,1713.8 1001.7,1713.8 1003.1,1713.8 1004.5,1713.8 1006,1713.8 1007.4,1713.8 1008.8,1713.8 1010.2,1713.8 1011.6,1713.8 1013.1,1713.8 1014.5,1713.8 1015.9,1713.8 1017.3,1713.8 1018.7,1713.8 1020.2,1713.8 1021.6,1713.8 1023,1713.8 1024.4,1713.8 1025.8,1713.8 1027.3,1713.8 1028.7,1713.8 1030.1,1713.8 1031.5,1713.8 1032.9,1713.8 1034.4,1713.8 1035.8,1713.8 1037.2,1713.8 1038.6,1713.8 1040,1713.8 1041.5,1713.8 1042.9,1713.8 1044.3,1713.8 1045.7,1713.8 1047.1,1713.8 1048.6,1713.8 1050,1713.8 1051.4,1713.8 1052.8,1713.8 1054.2,1713.8 1055.7,1713.8 1057.1,1713.8 1058.5,1713.8 1059.9,1713.8 1061.3,1713.8 1062.8,1713.8 1064.2,1713.8 1065.6,1713.8 1067,1713.8 1068.4,1713.7 1069.9,1713.7 1071.3,1713.7 1072.7,1713.7 1074.1,1713.6 1075.5,1713.6 1077,1713.5 1078.4,1713.5 1079.8,1713.4 1081.2,1713.2 1082.6,1713.1 1084.1,1712.8 1085.5,1712.5 1086.9,1712.1 1088.3,1711.5 1089.7,1710.5 1091.2,1708.9 1092.3,1698 1094.9,1686.6 1096,1643.6 1101.1,1613.7 1102,1629.5 1103.3,1657.6 1105,1692 1108.1,1700.7 1109.6,1711.5 1111,1712.1 1112.5,1712.6 1113.9,1712.9 1115.3,1713.1 1116.7,1713.2 1118.1,1713.4 1119.6,1713.5 1121,1713.5 1122.4,1713.6 1123.8,1713.7 1125.2,1713.7 1126.7,1713.7 1128.1,1713.7 1129.5,1713.7 1130.9,1713.8 1132.3,1713.8 1133.8,1713.8 1135.2,1713.8 1136.6,1713.8 1138,1713.8 1139.4,1713.8 1140.9,1713.8 1142.3,1713.8 1143.7,1713.8 1145.1,1713.8 1146.5,1713.8 1148,1713.8 1149.4,1713.8 1150.8,1713.8 1152.2,1713.8 1153.6,1713.8 1155.1,1713.8 1156.5,1713.8 1157.9,1713.8 1159.3,1713.8 1160.7,1713.8 1162.2,1713.8 1163.6,1713.8 1165,1713.8 1166.4,1713.8 1167.8,1713.8 1169.3,1713.8 1170.7,1713.8 1172.1,1713.8 1173.5,1713.8 1174.9,1713.8 1176.4,1713.8 1177.8,1713.8 1179.2,1713.8 1180.6,1713.8 1182,1713.8 1183.5,1713.8 1184.9,1713.8 1186.3,1713.8 1187.7,1713.8 1189.1,1713.8 1190.6,1713.8 1192,1713.8 1193.4,1713.8 1194.8,1713.8 1196.2,1713.8 1197.7,1713.8 1199.1,1713.8 1200.5,1713.8 1201.9,1713.8 1203.3,1713.8 1204.8,1713.8 1206.2,1713.8 1207.6,1713.8 1209,1713.8 1210.4,1713.8 1211.9,1713.8 1213.3,1713.8 1214.7,1713.8 1216.1,1713.8 1217.5,1713.8 1219,1713.8 1220.4,1713.8 1221.8,1713.8 1223.2,1713.8 1224.6,1713.8 1226.1,1713.8 1227.5,1713.8 1228.9,1713.7 1230.3,1713.7 1231.7,1713.7 1233.2,1713.7 1234.6,1713.6 1236,1713.5 1237.4,1713.4 1238.8,1713.1 1240.3,1712.3 1241.7,1710.7 1243.1,1708.2 1244.5,1706.6 1245.9,1707.1 1247.4,1709 1248.8,1711.3 1250.2,1712.6 1251.6,1713.2 1253,1713.4 1254.5,1713.6 1255.9,1713.6 1257.3,1713.7 1258.7,1713.7 1260.1,1713.7 1261.6,1713.7 1263,1713.8 1264.4,1713.8 1265.8,1713.8 1267.2,1713.8 1268.7,1713.8 1270.1,1713.8 1271.5,1713.8 1272.9,1713.8 1274.3,1713.8 1275.8,1713.8 1277.2,1713.8 1278.6,1713.8 1280,1713.8 1281.4,1713.8 1282.9,1713.8 1284.3,1713.8 1285.7,1713.8 1287.1,1713.8 1288.5,1713.8 1290,1713.8 1291.4,1713.8 1292.8,1713.8 1294.2,1713.8 1295.6,1713.8 1297.1,1713.8 1298.5,1713.8 1299.9,1713.8 1301.3,1713.8 1302.7,1713.8 1304.2,1713.8 1305.6,1713.8 1307,1713.8 1308.4,1713.8 1309.8,1713.8 1311.3,1713.8 1312.7,1713.8 1314.1,1713.8 1315.5,1713.8 1316.9,1713.8 1318.4,1713.8 1319.8,1713.8 1321.2,1713.8 1322.6,1713.8 1324,1713.8 1325.5,1713.8 1326.9,1713.8 1328.3,1713.8 1329.7,1713.8 1331.1,1713.8 1332.6,1713.8 1334,1713.8 1335.4,1713.8 1336.8,1713.8 1338.2,1713.8 1339.7,1713.8 1341.1,1713.8 1342.5,1713.8 1343.9,1713.7 1345.3,1713.7 1346.8,1713.7 1348.2,1713.7 1349.6,1713.6 1351,1713.6 1352.4,1713.5 1353.9,1713.5 1355.3,1713.4 1356.7,1713.2 1358.1,1713.1 1359.5,1712.8 1361,1712.5 1362.4,1712.1 1363.8,1711.6 1365.2,1710.9 1366.6,1693 1369.6,1684.3 1372.7,1667.7 1373.3,1598.2 1374.6,1557.5 1378.2,1536.6 1378.9,1547.1 1381.3,1584.6 1382.6,1660.9 1384.4,1681.8 1386.9,1693 1387.9,1709.6 1389.4,1710.7 1390.8,1711.5 1392.2,1712.1 1393.6,1712.5 1395,1712.8 1396.5,1713 1397.9,1713.2 1399.3,1713.3 1400.7,1713.4 1402.1,1713.5 1403.6,1713.6 1405,1713.6 1406.4,1713.7 1407.8,1713.7 1409.2,1713.7 1410.7,1713.7 1412.1,1713.8 1413.5,1713.8 1414.9,1713.8 1416.3,1713.8 1417.8,1713.8 1419.2,1713.8 1420.6,1713.8 1422,1713.8 1423.4,1713.8 1424.9,1713.8 1426.3,1713.8 1427.7,1713.8 1429.1,1713.8 1430.5,1713.8 1432,1713.8 1433.4,1713.8 1434.8,1713.8 1436.2,1713.8 1437.6,1713.8 1439.1,1713.8 1440.5,1713.8 1441.9,1713.8 1443.3,1713.8 1444.7,1713.8 1446.2,1713.8 1447.6,1713.8 1449,1713.8 1450.4,1713.8 1451.8,1713.8 1453.3,1713.8 1454.7,1713.8 1456.1,1713.8 1457.5,1713.8 1458.9,1713.8 1460.4,1713.8 1461.8,1713.8 1463.2,1713.8 1464.6,1713.8 1466,1713.8 1467.5,1713.8 1468.9,1713.8 1470.3,1713.8 1471.7,1713.8 1473.1,1713.8 1474.6,1713.8 1476,1713.8 1477.4,1713.8 1478.8,1713.8 1480.2,1713.8 1481.7,1713.8 1483.1,1713.8 1484.5,1713.8 1485.9,1713.8 1487.3,1713.8 1488.8,1713.8 1490.2,1713.8 1491.6,1713.8 1493,1713.8 1494.4,1713.8 1495.9,1713.8 1497.3,1713.8 1498.7,1713.8 1500.1,1713.8 1501.5,1713.8 1503,1713.8 1504.4,1713.8 1505.8,1713.8 1507.2,1713.8 1508.6,1713.8 1510.1,1713.8 1511.5,1713.8 1512.9,1713.8 1514.3,1713.8 1515.7,1713.8 1517.2,1713.8 1518.6,1713.8 1520,1713.8 1521.4,1713.8 1522.8,1713.8 1524.3,1713.8 1525.7,1713.8 1527.1,1713.8 1528.5,1713.8 1529.9,1713.8 1531.4,1713.8 1532.8,1713.8 1534.2,1713.8 1535.6,1713.8 1537,1713.8 1538.5,1713.8 1539.9,1713.8 1541.3,1713.8 1542.7,1713.8 1544.1,1713.8 1545.6,1713.8 1547,1713.8 1548.4,1713.8 1549.8,1713.8 1551.2,1713.8 1552.7,1713.8 1554.1,1713.8 1555.5,1713.8 1556.9,1713.8 1558.3,1713.8 1559.8,1713.8 1561.2,1713.8 1562.6,1713.8 1564,1713.8 1565.4,1713.8 1566.9,1713.8 1568.3,1713.8 1569.7,1713.8 1571.1,1713.8 1572.5,1713.8 1574,1713.8 1575.4,1713.8 1576.8,1713.8 1578.2,1713.8 1579.6,1713.8 1581.1,1713.8 1582.5,1713.8 1583.9,1713.7 1585.3,1713.7 1586.7,1713.7 1588.2,1713.7 1589.6,1713.7 1591,1713.6 1592.4,1713.6 1593.8,1713.5 1595.3,1713.4 1596.7,1713.3 1598.1,1713.1 1599.5,1712.8 1600.9,1712.4 1602.4,1711.8 1603.8,1710.6 1605.2,1708.2 1606.6,1701.3 1608,1688.6 1609.5,1673.3 1610.9,1667.8 1612.3,1679 1613.7,1694.2 1615.1,1704.6 1616.6,1709.1 1618,1711.2 1619.4,1712.1 1620.8,1712.6 1622.2,1712.9 1623.7,1713.2 1625.1,1713.3 1626.5,1713.4 1627.9,1713.5 1629.3,1713.6 1630.8,1713.6 1632.2,1713.7 1633.6,1713.7 1635,1713.7 1636.4,1713.7 1637.9,1713.8 1639.3,1713.8 1640.7,1713.8 1642.1,1713.8 1643.5,1713.8 1645,1713.8 1646.4,1713.8 1647.8,1713.8 1649.2,1713.8 1650.6,1713.8 1652.1,1713.8 1653.5,1713.8 1654.9,1713.8 1656.3,1713.8 1657.7,1713.8 1659.2,1713.8 1660.6,1713.8 1662,1713.8 1663.4,1713.8 1664.8,1713.8 1666.3,1713.8 1667.7,1713.8 1669.1,1713.8 1670.5,1713.8 1671.9,1713.8 1673.4,1713.8 1674.8,1713.8 1676.2,1713.8 1677.6,1713.8 1679,1713.8 1680.5,1713.8 1681.9,1713.8 1683.3,1713.8 1684.7,1713.8 1686.1,1713.8 1687.6,1713.8 1689,1713.8 1690.4,1713.8 1691.8,1713.8 1693.2,1713.8 1694.7,1713.8 1696.1,1713.8 1697.5,1713.8 1698.9,1713.8 1700.3,1713.8 1701.8,1713.8 1703.2,1713.7 1704.6,1713.7 1706,1713.7 1707.4,1713.6 1708.9,1713.6 1710.3,1713.3 1711.7,1712.8 1713.1,1711.8 1714.5,1710.5 1716,1709.8 1717.4,1710.6 1718.8,1711.9 1720.2,1712.9 1721.6,1713.4 1723.1,1713.6 1724.5,1713.6 1725.9,1713.7 1727.3,1713.7 1728.7,1713.7 1730.2,1713.8 1731.6,1713.8 1733,1713.8 1734.4,1713.8 1735.8,1713.8 1737.3,1713.8 1738.7,1713.8 1740.1,1713.8 1741.5,1713.8 1742.9,1713.8 1744.4,1713.8 1745.8,1713.8 1747.2,1713.8 1748.6,1713.8 1750,1713.8 1751.5,1713.8 1752.9,1713.8 1754.3,1713.8 1755.7,1713.8 1757.1,1713.8 1758.6,1713.8 1760,1713.8 1761.4,1713.8 1762.8,1713.8 1764.2,1713.8 1765.7,1713.8 1767.1,1713.8 1768.5,1713.8 1769.9,1713.8 1771.3,1713.8 1772.8,1713.8 1774.2,1713.8 1775.6,1713.8 1777,1713.8 1778.4,1713.8 1779.9,1713.8 1781.3,1713.8 1782.7,1713.8 1784.1,1713.8 1785.5,1713.8 1787,1713.8 1788.4,1713.8 1789.8,1713.7 1791.2,1713.7 1792.6,1713.7 1794.1,1713.7 1795.5,1713.7 1796.9,1713.6 1798.3,1713.6 1799.7,1713.5 1801.2,1713.4 1802.6,1713.2 1804,1713.1 1805.4,1712.8 1806.8,1712.5 1808.3,1711.9 1809.7,1711 1811.1,1709 1812.5,1704.5 1813.9,1693.6 1815.4,1676.1 1816.8,1659.7 1818.2,1661.1 1819.6,1678.5 1821,1695.4 1822.5,1705.4 1823.9,1709.3 1825.3,1711.2 1826.7,1712 1828.1,1712.5 1829.6,1712.9 1831,1713.1 1832.4,1713.3 1833.8,1713.4 1835.2,1713.5 1836.7,1713.6 1838.1,1713.6 1839.5,1713.7 1840.9,1713.7 1842.3,1713.7 1843.8,1713.7 1845.2,1713.7 1846.6,1713.8 1848,1713.8 1849.4,1713.8 1850.9,1713.8 1852.3,1713.8 1853.7,1713.8 1855.1,1713.8 1856.5,1713.8 1858,1713.8 1859.4,1713.8 1860.8,1713.8 1862.2,1713.8 1863.6,1713.8 1865.1,1713.8 1866.5,1713.8 1867.9,1713.8 1869.3,1713.8 1870.7,1713.8 1872.2,1713.8 1873.6,1713.8 1875,1713.8 1876.4,1713.8 1877.8,1713.8 1879.3,1713.8 1880.7,1713.8 1882.1,1713.8 1883.5,1713.8 1884.9,1713.8 1886.4,1713.8 1887.8,1713.8 1889.2,1713.8 1890.6,1713.8 1892,1713.8 1893.5,1713.8 1894.9,1713.8 1896.3,1713.8 1897.7,1713.8 1899.1,1713.8 1900.6,1713.8 1902,1713.8 1903.4,1713.8 1904.8,1713.8 1906.2,1713.8 1907.7,1713.8 1909.1,1713.8 1910.5,1713.8 1911.9,1713.8 1913.3,1713.8 1914.8,1713.8 1916.2,1713.8 1917.6,1713.8 1919,1713.8 1920.4,1713.8 1921.9,1713.8 1923.3,1713.8 1924.7,1713.8 1926.1,1713.8 1927.5,1713.8 1929,1713.8 1930.4,1713.8 1931.8,1713.8 1933.2,1713.8 1934.6,1713.8 1936.1,1713.8 1937.5,1713.8 1938.9,1713.8 1940.3,1713.8 1941.7,1713.8 1943.2,1713.8 1944.6,1713.8 1946,1713.8 1947.4,1713.8 1948.8,1713.8 1950.3,1713.8 1951.7,1713.8 1953.1,1713.8 1954.5,1713.8 1955.9,1713.8 1957.4,1713.8 1958.8,1713.8 1960.2,1713.8 1961.6,1713.8 1963,1713.8 1964.5,1713.8 1965.9,1713.8 1967.3,1713.8 1968.7,1713.8 1970.1,1713.8 1971.6,1713.8 1973,1713.8 1974.4,1713.8 1975.8,1713.8" fill="none" stroke="#0f0" stroke-width="3.2" stroke-linejoin="round" marker-start="url(#mBg)" marker-mid="url(#mBg)" marker-end="url(#mBg)"/>
<path d="M272 1711.2H469.6M497.8 1711.2H708.2M769 1711.2H924M942.2 1711.2H1078.8M1118.3 1711.2H1235M1253.2 1711.2H1354.3M1399.5 1711.2H1594.3M1626.7 1711.2H1707.9M1723.2 1711.2H1800.2M1834 1711.2H1973.4" stroke="#90ff90" stroke-width="2.2" stroke-dasharray="1.4 2" fill="none"/>
</g>
<g clip-path="url(#cIB)">
<polyline points="1081,1286.4 1088.4,1286.4 1095.8,1286.4 1103.2,1286.4 1110.6,1286.4 1118,1286.4 1125.4,1286.4 1132.8,1286.4 1140.2,1286.4 1147.6,1286.4 1155,1286.4 1162.4,1286.4 1169.8,1286.3 1177.2,1286.3 1184.6,1286.3 1192,1286.3 1199.4,1286.2 1206.8,1286.2 1214.2,1286.1 1221.6,1286 1229,1285.9 1236.4,1285.7 1243.8,1285.5 1251.2,1285.2 1258.6,1284.8 1266,1284.1 1273.4,1282.9 1280.8,1279.9 1286,1270.2 1293.4,1260 1304.5,1205.6 1312.3,1170.5 1320,1176.5 1328,1216.2 1335.4,1252 1342.5,1262 1350.8,1270 1362.2,1284.1 1369.6,1284.8 1377,1285.2 1384.4,1285.5 1391.8,1285.7 1399.2,1285.9 1406.6,1286 1414,1286.1 1421.4,1286.2 1428.8,1286.2 1436.2,1286.3 1443.6,1286.3 1451,1286.3 1458.4,1286.3 1465.8,1286.4 1473.2,1286.4 1480.6,1286.4 1488,1286.4 1495.4,1286.4 1502.8,1286.4 1510.2,1286.4 1517.6,1286.4 1525,1286.4 1532.4,1286.4 1539.8,1286.4 1547.2,1286.4 1554.6,1286.4 1562,1286.4 1569.4,1286.4 1576.8,1286.4 1584.2,1286.4 1591.6,1286.4 1599,1286.4 1606.4,1286.3 1613.8,1286.3 1621.2,1286.3 1628.6,1286.3 1636,1286.2 1643.4,1286.2 1650.8,1286.1 1658.2,1286.1 1665.6,1286 1673,1285.8 1680.4,1285.6 1687.8,1285.3 1695.2,1284.9 1702.6,1284.1 1710,1282.4 1717.4,1277.4 1722.8,1272 1730.3,1241.1 1738,1213 1745.8,1202.8 1753.7,1223.1 1761.1,1265.6 1769.2,1273.3 1776.6,1281 1784,1283.6 1791.4,1284.6 1798.8,1285.2 1806.2,1285.5 1813.6,1285.7 1821,1285.9 1828.4,1286 1835.8,1286.1 1843.2,1286.2 1850.6,1286.2 1858,1286.3 1865.4,1286.3 1872.8,1286.3 1880.2,1286.3 1887.6,1286.4 1895,1286.4 1902.4,1286.4 1909.8,1286.4 1917.2,1286.4 1924.6,1286.4 1932,1286.4 1939.4,1286.4 1946.8,1286.4 1954.2,1286.4 1961.6,1286.4" fill="none" stroke="#f00" stroke-width="3" stroke-linejoin="round" marker-start="url(#jR)" marker-mid="url(#jR)" marker-end="url(#jR)"/>
<polyline points="1083,1286.4 1090.4,1286.4 1097.8,1286.4 1105.2,1286.4 1112.6,1286.4 1120,1286.4 1127.4,1286.4 1134.8,1286.4 1142.2,1286.4 1149.6,1286.4 1157,1286.4 1164.4,1286.4 1171.8,1286.4 1179.2,1286.4 1186.6,1286.4 1194,1286.3 1201.4,1286.3 1208.8,1286.3 1216.2,1286.3 1223.6,1286.2 1231,1286.2 1238.4,1286.1 1245.8,1286 1253.2,1285.9 1260.6,1285.7 1268,1285.4 1275.4,1284.9 1282.8,1283.4 1290.2,1279 1296.2,1272.1 1303.2,1257.8 1310.5,1243 1319.6,1245.8 1327.6,1260.6 1335.6,1271 1342,1282 1349.4,1284.4 1356.8,1285.3 1364.2,1285.6 1371.6,1285.8 1379,1286 1386.4,1286.1 1393.8,1286.2 1401.2,1286.2 1408.6,1286.3 1416,1286.3 1423.4,1286.3 1430.8,1286.3 1438.2,1286.4 1445.6,1286.4 1453,1286.4 1460.4,1286.4 1467.8,1286.4 1475.2,1286.4 1482.6,1286.4 1490,1286.4 1497.4,1286.4 1504.8,1286.4 1512.2,1286.4 1519.6,1286.4 1527,1286.4 1534.4,1286.4 1541.8,1286.4 1549.2,1286.4 1556.6,1286.4 1564,1286.4 1571.4,1286.4 1578.8,1286.4 1586.2,1286.4 1593.6,1286.4 1601,1286.4 1608.4,1286.3 1615.8,1286.3 1623.2,1286.3 1630.6,1286.3 1638,1286.2 1645.4,1286.2 1652.8,1286.1 1660.2,1286 1667.6,1285.9 1675,1285.8 1682.4,1285.5 1689.8,1285.2 1697.2,1284.7 1704.6,1283.8 1712,1281.5 1722.8,1272 1730.3,1241.1 1738,1213 1745.8,1202.8 1753.7,1223.1 1761.1,1265.6 1771.2,1276.2 1778.6,1282 1786,1284 1793.4,1284.8 1800.8,1285.3 1808.2,1285.6 1815.6,1285.8 1823,1285.9 1830.4,1286 1837.8,1286.1 1845.2,1286.2 1852.6,1286.2 1860,1286.3 1867.4,1286.3 1874.8,1286.3 1882.2,1286.3 1889.6,1286.4 1897,1286.4 1904.4,1286.4 1911.8,1286.4 1919.2,1286.4 1926.6,1286.4 1934,1286.4 1941.4,1286.4 1948.8,1286.4 1956.2,1286.4 1963.6,1286.4" fill="none" stroke="#000" stroke-width="2.5" stroke-linejoin="round" marker-start="url(#jK)" marker-mid="url(#jK)" marker-end="url(#jK)"/>
<polyline points="1080.5,1286.6 1087.9,1286.6 1095.3,1286.6 1102.7,1286.6 1110.1,1286.6 1117.5,1286.6 1124.9,1286.6 1132.3,1286.6 1139.7,1286.6 1147.1,1286.6 1154.5,1286.6 1161.9,1286.6 1169.3,1286.6 1176.7,1286.6 1184.1,1286.6 1191.5,1286.6 1198.9,1286.6 1206.3,1286.6 1213.7,1286.6 1221.1,1286.6 1228.5,1286.6 1235.9,1286.6 1243.3,1286.6 1250.7,1286.5 1258.1,1286.5 1265.5,1286.5 1272.9,1286.4 1280.3,1286.3 1287.7,1285.8 1295.1,1284.8 1302.5,1283.2 1309.9,1281.8 1317.3,1281.9 1324.7,1283.5 1332.1,1285 1339.5,1285.9 1346.9,1286.3 1354.3,1286.4 1361.7,1286.5 1369.1,1286.5 1376.5,1286.5 1383.9,1286.6 1391.3,1286.6 1398.7,1286.6 1406.1,1286.6 1413.5,1286.6 1420.9,1286.6 1428.3,1286.6 1435.7,1286.6 1443.1,1286.6 1450.5,1286.6 1457.9,1286.6 1465.3,1286.6 1472.7,1286.6 1480.1,1286.6 1487.5,1286.6 1494.9,1286.6 1502.3,1286.6 1509.7,1286.6 1517.1,1286.6 1524.5,1286.6 1531.9,1286.6 1539.3,1286.6 1546.7,1286.6 1554.1,1286.6 1561.5,1286.6 1568.9,1286.6 1576.3,1286.6 1583.7,1286.6 1591.1,1286.6 1598.5,1286.6 1605.9,1286.5 1613.3,1286.5 1620.7,1286.5 1628.1,1286.5 1635.5,1286.4 1642.9,1286.4 1650.3,1286.3 1657.7,1286.2 1665.1,1286.1 1672.5,1285.9 1679.9,1285.7 1687.3,1285.4 1694.7,1285 1702.1,1284.1 1709.5,1282.2 1716.9,1276.8 1722.8,1272 1730.3,1241.1 1738,1213 1745.8,1202.8 1753.7,1223.1 1761.1,1265.6 1768.7,1270.8 1776.1,1280 1783.5,1283.3 1790.9,1284.6 1798.3,1285.2 1805.7,1285.6 1813.1,1285.8 1820.5,1286 1827.9,1286.2 1835.3,1286.3 1842.7,1286.3 1850.1,1286.4 1857.5,1286.4 1864.9,1286.5 1872.3,1286.5 1879.7,1286.5 1887.1,1286.5 1894.5,1286.6 1901.9,1286.6 1909.3,1286.6 1916.7,1286.6 1924.1,1286.6 1931.5,1286.6 1938.9,1286.6 1946.3,1286.6 1953.7,1286.6 1961.1,1286.6" fill="none" stroke="#00f" stroke-width="3" stroke-linejoin="round" marker-start="url(#jB)" marker-mid="url(#jB)" marker-end="url(#jB)"/>
<polyline points="1082,1286.4 1089.4,1286.4 1096.8,1286.4 1104.2,1286.4 1111.6,1286.4 1119,1286.4 1126.4,1286.4 1133.8,1286.4 1141.2,1286.4 1148.6,1286.4 1156,1286.4 1163.4,1286.4 1170.8,1286.4 1178.2,1286.4 1185.6,1286.4 1193,1286.4 1200.4,1286.4 1207.8,1286.4 1215.2,1286.4 1222.6,1286.4 1230,1286.4 1237.4,1286.4 1244.8,1286.4 1252.2,1286.4 1259.6,1286.4 1267,1286.4 1274.4,1286.3 1281.8,1286.2 1289.2,1286 1296.6,1285.6 1304,1284.9 1311.4,1284.4 1318.8,1284.6 1326.2,1285.3 1333.6,1285.9 1341,1286.2 1348.4,1286.3 1355.8,1286.3 1363.2,1286.4 1370.6,1286.4 1378,1286.4 1385.4,1286.4 1392.8,1286.4 1400.2,1286.4 1407.6,1286.4 1415,1286.4 1422.4,1286.4 1429.8,1286.4 1437.2,1286.4 1444.6,1286.4 1452,1286.4 1459.4,1286.4 1466.8,1286.4 1474.2,1286.4 1481.6,1286.4 1489,1286.4 1496.4,1286.4 1503.8,1286.4 1511.2,1286.4 1518.6,1286.4 1526,1286.4 1533.4,1286.4 1540.8,1286.4 1548.2,1286.4 1555.6,1286.4 1563,1286.4 1570.4,1286.4 1577.8,1286.4 1585.2,1286.4 1592.6,1286.4 1600,1286.4 1607.4,1286.3 1614.8,1286.3 1622.2,1286.3 1629.6,1286.3 1637,1286.2 1644.4,1286.2 1651.8,1286.1 1659.2,1286 1666.6,1285.9 1674,1285.7 1681.4,1285.5 1688.8,1285.2 1696.2,1284.7 1703.6,1283.8 1711,1281.7 1718.4,1275.6 1724.3,1269.1 1730.3,1240 1738.2,1209.1 1746.5,1200.3 1754.8,1221.1 1760.3,1262.7 1770.2,1272 1777.6,1280.4 1785,1283.3 1792.4,1284.5 1799.8,1285 1807.2,1285.4 1814.6,1285.7 1822,1285.8 1829.4,1286 1836.8,1286.1 1844.2,1286.1 1851.6,1286.2 1859,1286.3 1866.4,1286.3 1873.8,1286.3 1881.2,1286.3 1888.6,1286.3 1896,1286.4 1903.4,1286.4 1910.8,1286.4 1918.2,1286.4 1925.6,1286.4 1933,1286.4 1940.4,1286.4 1947.8,1286.4 1955.2,1286.4 1962.6,1286.4" fill="none" stroke="#0f0" stroke-width="3.2" stroke-linejoin="round" marker-start="url(#jG)" marker-mid="url(#jG)" marker-end="url(#jG)"/>
</g>
<g clip-path="url(#cC)">
<polyline points="306.3,2490.2 308.9,2490.2 311.4,2490.2 314,2490.2 316.5,2490.2 319.1,2490.2 321.6,2490.2 324.2,2490.2 326.7,2490.2 329.3,2490.2 331.8,2490.2 334.4,2490.3 336.9,2490.3 339.5,2490.3 342,2490.3 344.6,2490.3 347.1,2490.3 349.7,2490.3 352.2,2490.3 354.8,2490.3 357.3,2490.3 359.9,2490.3 362.4,2490.3 365,2490.3 367.5,2490.3 370.1,2490.3 372.6,2490.3 375.2,2490.3 377.7,2490.3 380.3,2490.3 382.8,2490.3 385.4,2490.3 387.9,2490.3 390.5,2490.4 393,2490.4 395.6,2490.4 398.1,2490.4 400.7,2490.4 403.2,2490.4 405.8,2490.4 408.3,2490.4 410.9,2490.4 413.4,2490.4 416,2490.4 418.5,2490.4 421.1,2490.4 423.6,2490.4 426.2,2490.4 428.7,2490.4 431.3,2490.4 433.8,2490.4 436.4,2490.4 438.9,2490.4 441.5,2490.4 444,2490.4 446.6,2490.5 449.1,2490.5 451.7,2490.5 454.2,2490.5 456.8,2490.5 459.3,2490.5 461.9,2490.5 464.4,2490.4 467,2490.4 469.5,2490.4 472.1,2490.3 474.6,2490.2 477.2,2490 479.7,2489.5 482.3,2488.2 484,2485.6 484.8,2482.9 485.7,2479 486.5,2473.9 487.4,2468.7 488.2,2465.7 489.9,2471.4 490.8,2476.7 491.6,2481.2 492.5,2484.5 493.3,2486.6 495,2488.6 497.6,2489.6 500.1,2490 502.7,2490.3 505.2,2490.4 507.8,2490.5 510.3,2490.5 512.9,2490.5 515.4,2490.6 518,2490.6 520.5,2490.6 523.1,2490.6 525.6,2490.6 528.2,2490.6 530.7,2490.6 533.3,2490.6 535.8,2490.6 538.4,2490.6 540.9,2490.6 543.5,2490.6 546,2490.6 548.6,2490.6 551.1,2490.6 553.7,2490.6 556.2,2490.7 558.8,2490.7 561.3,2490.7 563.9,2490.7 566.4,2490.7 569,2490.7 571.5,2490.7 574.1,2490.7 576.6,2490.7 579.2,2490.7 581.7,2490.7 584.3,2490.7 586.8,2490.7 589.4,2490.7 591.9,2490.7 594.5,2490.7 597,2490.7 599.6,2490.7 602.1,2490.7 604.7,2490.7 607.2,2490.7 609.8,2490.8 612.3,2490.8 614.9,2490.8 617.4,2490.8 620,2490.8 622.5,2490.8 625.1,2490.8 627.6,2490.8 630.2,2490.8 632.7,2490.8 635.3,2490.8 637.8,2490.8 640.4,2490.8 642.9,2490.8 645.5,2490.8 648,2490.8 650.6,2490.8 653.1,2490.8 655.7,2490.8 658.2,2490.8 660.8,2490.8 663.3,2490.8 665.9,2490.9 668.4,2490.9 671,2490.9 673.5,2490.9 676.1,2490.9 678.6,2490.9 681.2,2490.9 683.7,2490.9 686.3,2490.9 688.8,2490.9 691.4,2490.9 693.9,2490.9 696.5,2490.9 699,2490.9 701.6,2490.9 704.1,2490.9 706.7,2490.9 709.2,2490.8 711.8,2490.7 714.3,2490.5 716.9,2490.2 719.4,2489.8 722,2489 724.5,2487.8 726.2,2486.5 727.9,2484.6 729.6,2481.9 731.3,2477.9 732.2,2475.1 733,2471.6 733.9,2467 734.7,2460.8 735.4,2451 736.7,2437.7 737.4,2410.7 738,2370.4 739.3,2303.2 740.3,2203.2 740.5,2075.1 741.5,1958.1 742.5,1900.1 743.6,1928 744.6,2026.9 745.4,2152.9 745.6,2266.3 746.3,2346 747.3,2395.5 748.3,2428.5 749.2,2447 750,2456 750.9,2463.6 751.7,2469.1 752.6,2473.2 753.4,2476.4 754.3,2478.9 755.1,2481 756.8,2484 758.5,2486.1 760.2,2487.5 762.8,2488.9 765.3,2489.7 767.9,2490.3 770.4,2490.6 773,2490.8 775.5,2490.9 778.1,2491 780.6,2491 783.2,2491 785.7,2491.1 788.3,2491.1 790.8,2491.1 793.4,2491.1 795.9,2491.1 798.5,2491.1 801,2491.1 803.6,2491.1 806.1,2491.1 808.7,2491.1 811.2,2491.1 813.8,2491.1 816.3,2491.1 818.9,2491.1 821.4,2491.1 824,2491.1 826.5,2491.1 829.1,2491.2 831.6,2491.2 834.2,2491.2 836.7,2491.2 839.3,2491.2 841.8,2491.2 844.4,2491.2 846.9,2491.2 849.5,2491.2 852,2491.2 854.6,2491.2 857.1,2491.2 859.7,2491.2 862.2,2491.2 864.8,2491.2 867.3,2491.2 869.9,2491.2 872.4,2491.2 875,2491.2 877.5,2491.2 880.1,2491.2 882.6,2491.2 885.2,2491.3 887.7,2491.3 890.3,2491.3 892.8,2491.3 895.4,2491.3 897.9,2491.3 900.5,2491.3 903,2491.3 905.6,2491.3 908.1,2491.3 910.7,2491.3 913.2,2491.3 915.8,2491.3 918.3,2491.3 920.9,2491.3 923.4,2491.2 926,2491.2 928.5,2491.1 931.1,2490.7 933.6,2489.3 935.3,2487.1 937,2485.3 938.7,2487.1 940.4,2489.3 942.1,2490.5 944.7,2491 947.2,2491.2 949.8,2491.3 952.3,2491.3 954.9,2491.3 957.4,2491.4 960,2491.4 962.5,2491.4 965.1,2491.4 967.6,2491.4 970.2,2491.4 972.7,2491.4 975.3,2491.4 977.8,2491.4 980.4,2491.4 982.9,2491.4 985.5,2491.4 988,2491.4 990.6,2491.4 993.1,2491.4 995.7,2491.5 998.2,2491.5 1000.8,2491.5 1003.3,2491.5 1005.9,2491.5 1008.4,2491.5 1011,2491.5 1013.5,2491.5 1016.1,2491.5 1018.6,2491.5 1021.2,2491.5 1023.7,2491.5 1026.3,2491.5 1028.8,2491.5 1031.4,2491.5 1033.9,2491.5 1036.5,2491.5 1039,2491.5 1041.6,2491.5 1044.1,2491.5 1046.7,2491.5 1049.2,2491.6 1051.8,2491.6 1054.3,2491.6 1056.9,2491.6 1059.4,2491.6 1062,2491.6 1064.5,2491.6 1067.1,2491.6 1069.6,2491.6 1072.2,2491.6 1074.7,2491.5 1077.3,2491.5 1079.8,2491.5 1082.4,2491.4 1084.9,2491.2 1087.5,2490.9 1090,2490.5 1092.6,2489.6 1094.3,2488.4 1096,2486 1096.8,2483.6 1097.7,2479.6 1098.5,2473.1 1099.4,2463.4 1100.2,2450.8 1101.1,2437.3 1101.9,2428.4 1103.6,2441.1 1104.5,2454.7 1105.3,2466.6 1106.2,2475.3 1107,2481 1107.9,2484.5 1108.7,2486.5 1110.4,2488.7 1112.1,2489.7 1114.7,2490.6 1117.2,2491 1119.8,2491.3 1122.3,2491.5 1124.9,2491.5 1127.4,2491.6 1130,2491.6 1132.5,2491.7 1135.1,2491.7 1137.6,2491.7 1140.2,2491.7 1142.7,2491.7 1145.3,2491.7 1147.8,2491.7 1150.4,2491.7 1152.9,2491.7 1155.5,2491.7 1158,2491.7 1160.6,2491.8 1163.1,2491.8 1165.7,2491.8 1168.2,2491.8 1170.8,2491.8 1173.3,2491.8 1175.9,2491.8 1178.4,2491.8 1181,2491.8 1183.5,2491.8 1186.1,2491.8 1188.6,2491.8 1191.2,2491.8 1193.7,2491.8 1196.3,2491.8 1198.8,2491.8 1201.4,2491.8 1203.9,2491.8 1206.5,2491.8 1209,2491.8 1211.6,2491.8 1214.1,2491.8 1216.7,2491.9 1219.2,2491.9 1221.8,2491.9 1224.3,2491.9 1226.9,2491.9 1229.4,2491.8 1232,2491.8 1234.5,2491.8 1237.1,2491.7 1239.6,2491.5 1242.2,2490.7 1243.9,2489.1 1245.6,2486.7 1248.1,2487.3 1249.8,2489.7 1251.5,2491 1254.1,2491.6 1256.6,2491.7 1259.2,2491.8 1261.7,2491.9 1264.3,2491.9 1266.8,2491.9 1269.4,2491.9 1271.9,2491.9 1274.5,2492 1277,2492 1279.6,2492 1282.1,2492 1284.7,2492 1287.2,2492 1289.8,2492 1292.3,2492 1294.9,2492 1297.4,2492 1300,2492 1302.5,2492 1305.1,2492 1307.6,2492 1310.2,2492 1312.7,2492 1315.3,2492 1317.8,2492 1320.4,2492 1322.9,2492 1325.5,2492.1 1328,2492.1 1330.6,2492.1 1333.1,2492.1 1335.7,2492.1 1338.2,2492.1 1340.8,2492.1 1343.3,2492.1 1345.9,2492 1348.4,2492 1351,2492 1353.5,2491.9 1356.1,2491.8 1358.6,2491.5 1361.2,2491.2 1363.7,2490.5 1366.3,2489.4 1368,2488.1 1369.7,2486 1371.4,2482 1372.2,2478.1 1373.1,2471.7 1373.9,2460.9 1374.8,2444.1 1375.6,2420.2 1376.5,2391 1377.3,2364 1378.2,2353.2 1379,2366.7 1379.9,2394.6 1380.7,2423.3 1381.6,2446.4 1382.4,2462.5 1383.3,2472.6 1384.1,2478.7 1385,2482.4 1385.8,2484.7 1387.5,2487.4 1389.2,2489 1391.8,2490.3 1394.3,2491.1 1396.9,2491.5 1399.4,2491.8 1402,2492 1404.5,2492.1 1407.1,2492.1 1409.6,2492.2 1412.2,2492.2 1414.7,2492.2 1417.3,2492.2 1419.8,2492.2 1422.4,2492.2 1424.9,2492.2 1427.5,2492.2 1430,2492.2 1432.6,2492.2 1435.1,2492.3 1437.7,2492.3 1440.2,2492.3 1442.8,2492.3 1445.3,2492.3 1447.9,2492.3 1450.4,2492.3 1453,2492.3 1455.5,2492.3 1458.1,2492.3 1460.6,2492.3 1463.2,2492.3 1465.7,2492.3 1468.3,2492.3 1470.8,2492.3 1473.4,2492.3 1475.9,2492.3 1478.5,2492.3 1481,2492.3 1483.6,2492.3 1486.1,2492.3 1488.7,2492.3 1491.2,2492.4 1493.8,2492.4 1496.3,2492.4 1498.9,2492.4 1501.4,2492.4 1504,2492.4 1506.5,2492.4 1509.1,2492.4 1511.6,2492.4 1514.2,2492.4 1516.7,2492.4 1519.3,2492.4 1521.8,2492.4 1524.4,2492.4 1526.9,2492.4 1529.5,2492.4 1532,2492.4 1534.6,2492.4 1537.1,2492.4 1539.7,2492.4 1542.2,2492.4 1544.8,2492.5 1547.3,2492.5 1549.9,2492.5 1552.4,2492.5 1555,2492.5 1557.5,2492.5 1560.1,2492.5 1562.6,2492.5 1565.2,2492.5 1567.7,2492.5 1570.3,2492.5 1572.8,2492.5 1575.4,2492.5 1577.9,2492.5 1580.5,2492.5 1583,2492.5 1585.6,2492.5 1588.1,2492.5 1590.7,2492.4 1593.2,2492.3 1595.8,2492.2 1598.3,2491.9 1600.9,2491.5 1603.4,2490.4 1605.1,2488.6 1606,2486.7 1606.8,2483.6 1607.7,2478.8 1608.5,2472.2 1609.4,2464.6 1610.2,2458.2 1611.9,2461.6 1612.8,2469.1 1613.6,2476.3 1614.5,2481.9 1615.3,2485.6 1616.2,2488 1617.9,2490.2 1620.4,2491.4 1623,2491.9 1625.5,2492.2 1628.1,2492.4 1630.6,2492.5 1633.2,2492.5 1635.7,2492.6 1638.3,2492.6 1640.8,2492.6 1643.4,2492.6 1645.9,2492.6 1648.5,2492.6 1651,2492.6 1653.6,2492.6 1656.1,2492.7 1658.7,2492.7 1661.2,2492.7 1663.8,2492.7 1666.3,2492.7 1668.9,2492.7 1671.4,2492.7 1674,2492.7 1676.5,2492.7 1679.1,2492.7 1681.6,2492.7 1684.2,2492.7 1686.7,2492.7 1689.3,2492.7 1691.8,2492.7 1694.4,2492.7 1696.9,2492.7 1699.5,2492.7 1702,2492.7 1704.6,2492.7 1707.1,2492.6 1709.7,2492.4 1712.2,2491.5 1713.9,2490.2 1716.5,2489.6 1718.2,2491.1 1720.7,2492.3 1723.3,2492.6 1725.8,2492.7 1728.4,2492.7 1730.9,2492.8 1733.5,2492.8 1736,2492.8 1738.6,2492.8 1741.1,2492.8 1743.7,2492.8 1746.2,2492.8 1748.8,2492.8 1751.3,2492.8 1753.9,2492.8 1756.4,2492.8 1759,2492.8 1761.5,2492.8 1764.1,2492.9 1766.6,2492.9 1769.2,2492.9 1771.7,2492.9 1774.3,2492.9 1776.8,2492.9 1779.4,2492.9 1781.9,2492.9 1784.5,2492.9 1787,2492.9 1789.6,2492.9 1792.1,2492.8 1794.7,2492.8 1797.2,2492.8 1799.8,2492.7 1802.3,2492.5 1804.9,2492.2 1807.4,2491.7 1810,2490.1 1811.7,2486.9 1812.5,2483.7 1813.4,2478.8 1814.2,2472.5 1815.1,2465.8 1815.9,2461.3 1817.6,2467.7 1818.5,2474.5 1819.3,2480.4 1820.2,2484.8 1821,2487.6 1822.7,2490.4 1824.4,2491.5 1827,2492.2 1829.5,2492.5 1832.1,2492.7 1834.6,2492.8 1837.2,2492.9 1839.7,2492.9 1842.3,2493 1844.8,2493 1847.4,2493 1849.9,2493 1852.5,2493 1855,2493 1857.6,2493 1860.1,2493 1862.7,2493 1865.2,2493 1867.8,2493 1870.3,2493 1872.9,2493 1875.4,2493.1 1878,2493.1 1880.5,2493.1 1883.1,2493.1 1885.6,2493.1 1888.2,2493.1 1890.7,2493.1 1893.3,2493.1 1895.8,2493.1 1898.4,2493.1 1900.9,2493.1 1903.5,2493.1 1906,2493.1 1908.6,2493.1 1911.1,2493.1 1913.7,2493.1 1916.2,2493.1 1918.8,2493.1 1921.3,2493.1 1923.9,2493.1 1926.4,2493.1 1929,2493.2 1931.5,2493.2 1934.1,2493.2 1936.6,2493.2 1939.2,2493.2 1941.7,2493.2 1944.3,2493.2 1946.8,2493.2 1949.4,2493.2 1951.9,2493.2" fill="none" stroke="#f00" stroke-width="10" stroke-linejoin="round" marker-start="url(#mC)" marker-mid="url(#mC)" marker-end="url(#mC)"/>
<polyline points="306.3,2491 318.6,2491 330.8,2491 343.1,2491.1 355.3,2491.1 367.6,2491.1 379.8,2491.1 392.1,2491.2 404.3,2491.2 416.6,2491.2 428.8,2491.2 441.1,2491.2 453.3,2491.3 465.6,2491.3 477.8,2490.9 480.1,2490.5 481.3,2490.2 482.3,2489.7 483.1,2489.2 483.6,2488.7 484.1,2488.1 484.3,2487.7 484.6,2487.2 484.8,2486.7 485.1,2486 485.3,2485.3 485.6,2484.4 485.8,2483.4 486.1,2482.2 486.3,2480.9 486.6,2479.4 486.8,2477.7 487.1,2475.8 487.3,2473.9 487.6,2472 487.8,2470.3 488.1,2469 488.3,2468.4 488.6,2468.5 488.8,2469.2 489.1,2470.6 489.3,2472.3 489.6,2474.3 489.8,2476.2 490.1,2478 490.3,2479.7 490.6,2481.2 490.8,2482.5 491.1,2483.6 491.3,2484.6 491.6,2485.5 491.8,2486.2 492.1,2486.8 492.3,2487.3 492.6,2487.8 492.8,2488.1 493.3,2488.8 493.8,2489.2 494.3,2489.6 495.1,2490 496.1,2490.4 497.6,2490.7 500.6,2491.1 512.8,2491.4 525,2491.4 537.3,2491.4 549.5,2491.4 561.8,2491.5 574,2491.5 586.3,2491.5 598.5,2491.5 610.8,2491.6 623,2491.6 635.3,2491.6 647.5,2491.6 659.8,2491.6 672,2491.7 684.3,2491.7 696.5,2491.7 708.8,2491.7 720.3,2491.4 722.8,2491 724.3,2490.6 725.3,2490.2 726.3,2489.8 727,2489.3 727.8,2488.8 728.3,2488.4 728.8,2487.9 729.3,2487.3 729.8,2486.7 730,2486.4 730.3,2486 730.5,2485.6 730.8,2485.2 731,2484.7 731.3,2484.2 731.5,2483.7 731.8,2483.2 732,2482.6 732.3,2481.9 732.5,2481.2 732.8,2480.5 733,2479.6 733.3,2478.8 733.5,2477.8 733.8,2476.8 734,2475.7 734.3,2474.4 734.5,2473.1 734.8,2471.7 735,2470.1 735.3,2468.4 735.5,2466.5 735.8,2464.4 736,2462.1 736.3,2459.6 736.5,2456.8 736.8,2453.7 737,2450.3 737.3,2446.4 737.5,2442.1 737.8,2437.1 738,2431.5 738.3,2425.1 738.5,2417.8 738.8,2409.3 739,2399.4 739.3,2387.9 739.5,2374.4 739.8,2358.6 740,2340 740.3,2318.2 740.5,2292.8 740.8,2263.3 741,2229.3 741.3,2190.6 741.5,2147.2 741.8,2099.8 742,2050 742.3,2000.6 742.5,1955.6 742.8,1920.5 743,1900.2 743.3,1898.3 743.5,1915.1 743.8,1947.7 744,1991.1 744.3,2040 744.5,2090 744.8,2138 745,2182.3 745.3,2222 745.5,2256.9 745.8,2287.3 746,2313.5 746.3,2335.9 746.5,2355.1 746.8,2371.4 747,2385.4 747.3,2397.3 747.5,2407.4 747.8,2416.2 748,2423.8 748.3,2430.3 748.5,2436.1 748.8,2441.1 749,2445.6 749.3,2449.6 749.5,2453.1 749.8,2456.3 750,2459.1 750.3,2461.7 750.5,2464 750.8,2466.1 751,2468.1 751.3,2469.8 751.5,2471.4 751.8,2472.9 752,2474.2 752.3,2475.5 752.5,2476.6 752.8,2477.6 753,2478.6 753.3,2479.5 753.5,2480.3 753.8,2481.1 754,2481.8 754.3,2482.5 754.5,2483.1 754.8,2483.7 755,2484.2 755.3,2484.7 755.5,2485.1 755.8,2485.6 756,2486 756.3,2486.3 756.8,2487 757.3,2487.6 757.8,2488.1 758.3,2488.6 758.8,2489 759.3,2489.3 760,2489.8 760.8,2490.2 761.8,2490.6 763,2490.9 764.8,2491.3 768.3,2491.6 780.5,2491.9 792.8,2491.9 805,2491.9 817.3,2491.9 829.5,2492 841.8,2492 854,2492 866.3,2492 878.5,2492 890.8,2492.1 903,2492.1 915.3,2492.1 927.5,2492 931.5,2491.6 933,2491.2 933.8,2490.8 934.3,2490.4 934.8,2489.8 935,2489.4 935.3,2489 935.5,2488.6 935.8,2488.2 936,2487.7 936.3,2487.3 936.8,2486.7 937.5,2487 937.8,2487.4 938,2487.9 938.3,2488.3 938.5,2488.8 938.8,2489.2 939,2489.6 939.5,2490.2 940,2490.7 940.8,2491.1 941.8,2491.5 944,2491.9 956.3,2492.2 968.5,2492.2 980.8,2492.2 993,2492.2 1005.3,2492.3 1017.5,2492.3 1029.8,2492.3 1042,2492.3 1054.3,2492.4 1066.5,2492.4 1078.8,2492.4 1087.8,2492 1090.3,2491.6 1091.8,2491.2 1092.8,2490.8 1093.5,2490.5 1094.3,2490 1094.8,2489.5 1095.3,2489 1095.8,2488.4 1096,2488 1096.3,2487.6 1096.5,2487.2 1096.8,2486.7 1097,2486.1 1097.3,2485.4 1097.5,2484.6 1097.8,2483.7 1098,2482.7 1098.3,2481.4 1098.5,2480 1098.8,2478.3 1099,2476.4 1099.3,2474.1 1099.5,2471.4 1099.8,2468.3 1100,2464.7 1100.3,2460.6 1100.5,2456 1100.8,2450.9 1101,2445.7 1101.3,2440.4 1101.5,2435.7 1101.8,2432 1102,2429.8 1102.3,2429.6 1102.5,2431.4 1102.8,2434.8 1103,2439.4 1103.3,2444.6 1103.5,2449.9 1103.8,2455 1104,2459.7 1104.3,2463.9 1104.5,2467.6 1104.8,2470.8 1105,2473.6 1105.3,2475.9 1105.5,2478 1105.8,2479.7 1106,2481.2 1106.3,2482.4 1106.5,2483.5 1106.8,2484.5 1107,2485.3 1107.3,2485.9 1107.5,2486.6 1107.8,2487.1 1108,2487.6 1108.3,2488 1108.5,2488.4 1109,2489 1109.5,2489.5 1110,2489.9 1110.5,2490.3 1111.3,2490.7 1112.3,2491.2 1113.5,2491.5 1115.5,2491.9 1119.5,2492.3 1131.8,2492.5 1144,2492.5 1156.3,2492.5 1168.5,2492.6 1180.8,2492.6 1193,2492.6 1205.3,2492.6 1217.5,2492.7 1229.8,2492.7 1240.8,2492.3 1242.5,2491.9 1243.3,2491.5 1243.8,2491.2 1244.3,2490.7 1244.8,2490 1245,2489.7 1245.3,2489.2 1245.5,2488.8 1245.8,2488.4 1246.3,2487.8 1247.3,2488.3 1247.5,2488.7 1247.8,2489.1 1248,2489.5 1248.3,2489.9 1248.5,2490.3 1249,2490.8 1249.5,2491.3 1250.3,2491.8 1251.3,2492.1 1253.8,2492.5 1266,2492.7 1278.3,2492.8 1290.5,2492.8 1302.8,2492.8 1315,2492.8 1327.3,2492.9 1339.5,2492.9 1351.8,2492.9 1361,2492.5 1363.5,2492.1 1365,2491.7 1366,2491.3 1366.8,2491 1367.5,2490.6 1368,2490.2 1368.5,2489.8 1369,2489.3 1369.5,2488.7 1369.8,2488.4 1370,2488.1 1370.3,2487.7 1370.5,2487.2 1370.8,2486.8 1371,2486.2 1371.3,2485.7 1371.5,2485 1371.8,2484.3 1372,2483.5 1372.3,2482.7 1372.5,2481.7 1372.8,2480.5 1373,2479.2 1373.3,2477.8 1373.5,2476.1 1373.8,2474.1 1374,2471.8 1374.3,2469.1 1374.5,2466 1374.8,2462.3 1375,2458 1375.3,2452.9 1375.5,2447 1375.8,2440.2 1376,2432.3 1376.3,2423.5 1376.5,2413.6 1376.8,2403 1377,2392 1377.3,2381.5 1377.5,2372.4 1377.8,2365.9 1378,2363 1378.3,2364.3 1378.5,2369.4 1378.8,2377.6 1379,2387.7 1379.3,2398.6 1379.5,2409.4 1379.8,2419.6 1380,2428.9 1380.3,2437.2 1380.5,2444.4 1380.8,2450.7 1381,2456 1381.3,2460.7 1381.5,2464.6 1381.8,2467.9 1382,2470.8 1382.3,2473.2 1382.5,2475.3 1382.8,2477.1 1383,2478.7 1383.3,2480.1 1383.5,2481.2 1383.8,2482.3 1384,2483.2 1384.3,2484 1384.5,2484.8 1384.8,2485.5 1385,2486.1 1385.3,2486.6 1385.5,2487.1 1385.8,2487.5 1386,2487.9 1386.3,2488.3 1386.8,2488.9 1387.3,2489.5 1387.8,2490 1388.3,2490.4 1389,2490.8 1389.8,2491.2 1390.8,2491.6 1392,2492 1393.8,2492.4 1397,2492.7 1409.3,2493 1421.5,2493 1433.8,2493 1446,2493.1 1458.3,2493.1 1466.3,2492.7 1467.5,2492.4 1471,2492.7 1475.8,2493.1 1488,2493.1 1500.3,2493.2 1512.5,2493.2 1524.8,2493.2 1537,2493.2 1549.3,2493.3 1561.5,2493.3 1573.8,2493.3 1586,2493.3 1598.3,2493 1601,2492.7 1602.5,2492.3 1603.5,2491.9 1604.3,2491.5 1604.8,2491.2 1605.3,2490.7 1605.8,2490.1 1606,2489.8 1606.3,2489.4 1606.5,2488.9 1606.8,2488.4 1607,2487.7 1607.3,2487 1607.5,2486.1 1607.8,2485.1 1608,2483.9 1608.3,2482.5 1608.5,2480.8 1608.8,2479 1609,2476.9 1609.3,2474.6 1609.5,2472.1 1609.8,2469.6 1610,2467.2 1610.3,2465.2 1610.5,2463.8 1610.8,2463.4 1611,2463.9 1611.3,2465.2 1611.5,2467.2 1611.8,2469.6 1612,2472.1 1612.3,2474.6 1612.5,2476.9 1612.8,2479 1613,2480.9 1613.3,2482.5 1613.5,2483.9 1613.8,2485.1 1614,2486.1 1614.3,2487 1614.5,2487.7 1614.8,2488.4 1615,2488.9 1615.3,2489.4 1615.5,2489.8 1615.8,2490.2 1616.3,2490.7 1616.8,2491.2 1617.3,2491.5 1618,2491.9 1619,2492.3 1620.5,2492.7 1623.3,2493.1 1635.5,2493.4 1647.8,2493.4 1660,2493.5 1672.3,2493.5 1684.5,2493.5 1696.8,2493.5 1709,2493.4 1711.8,2493 1712.8,2492.6 1713.5,2492.1 1714,2491.6 1714.5,2491.1 1715,2490.7 1716.5,2491.2 1717,2491.7 1717.5,2492.2 1718.3,2492.6 1719.3,2493 1721.8,2493.4 1734,2493.6 1746.3,2493.6 1758.5,2493.6 1770.8,2493.7 1783,2493.7 1795.3,2493.7 1804.8,2493.3 1807.3,2492.9 1808.5,2492.5 1809.5,2492.1 1810.3,2491.6 1810.8,2491.2 1811.3,2490.6 1811.5,2490.3 1811.8,2489.9 1812,2489.4 1812.3,2488.8 1812.5,2488.2 1812.8,2487.5 1813,2486.6 1813.3,2485.6 1813.5,2484.4 1813.8,2483 1814,2481.4 1814.3,2479.6 1814.5,2477.5 1814.8,2475.3 1815,2473 1815.3,2470.6 1815.5,2468.5 1815.8,2466.9 1816,2465.9 1816.3,2465.8 1816.5,2466.6 1816.8,2468.1 1817,2470.2 1817.3,2472.5 1817.5,2474.8 1817.8,2477.1 1818,2479.2 1818.3,2481.1 1818.5,2482.7 1818.8,2484.1 1819,2485.4 1819.3,2486.4 1819.5,2487.3 1819.8,2488.1 1820,2488.7 1820.3,2489.3 1820.5,2489.8 1820.8,2490.2 1821,2490.6 1821.5,2491.1 1822,2491.6 1822.5,2491.9 1823.3,2492.3 1824.3,2492.7 1825.8,2493.1 1828.5,2493.5 1840.8,2493.8 1853,2493.8 1865.3,2493.8 1877.5,2493.9 1889.8,2493.9 1902,2493.9 1914.3,2493.9 1926.5,2493.9 1938.8,2494 1951,2494 1952,2494" fill="none" stroke="#000" stroke-width="12" stroke-linejoin="round" stroke-linecap="round"/>
<path d="M407.2 2538.2V2585.2M488.8 2538.2V2585.2M743 2538.2V2585.2M891.9 2538.2V2585.2M937.1 2538.2V2585.2M1101.8 2538.2V2585.2M1212.3 2538.2V2585.2M1247 2538.2V2585.2M1378.2 2538.2V2585.2M1468.7 2538.2V2585.2M1610.8 2538.2V2585.2M1690 2538.2V2585.2M1715.5 2538.2V2585.2M1816.2 2538.2V2585.2M1888 2538.2V2585.2M1911 2538.2V2585.2" stroke="#0f0" stroke-width="9.6" stroke-linecap="round" fill="none"/>
<polyline points="303.5,2596.8 315.5,2596.8 327.5,2596.8 339.5,2596.8 351.5,2596.8 363.5,2596.8 375.5,2596.8 387.5,2596.8 399.5,2596.8 411.5,2596.8 423.5,2596.8 435.5,2596.8 447.5,2596.8 459.5,2596.8 471.5,2596.8 483.2,2597.2 484.4,2597.5 485.3,2598 485.9,2598.4 486.5,2598.8 487.1,2599.2 488,2599.6 490.4,2599.2 491,2598.8 491.6,2598.4 492.2,2598 493.1,2597.6 494.3,2597.2 500,2596.8 512,2596.8 524,2596.8 536,2596.8 548,2596.8 560,2596.8 572,2596.8 584,2596.8 596,2596.8 608,2596.8 620,2596.8 632,2596.8 644,2596.8 656,2596.8 668,2596.8 680,2596.8 692,2596.8 704,2596.8 716,2596.8 728,2596.8 734.6,2596.3 735.2,2595.8 735.5,2595.4 735.8,2595 736.1,2594.4 736.4,2593.9 736.7,2593.3 737,2592.9 737.3,2592.5 737.9,2592.4 738.2,2592.8 738.5,2593.4 738.8,2594.4 739.1,2595.7 739.4,2597.1 739.7,2598.8 740,2600.5 740.3,2602.2 740.6,2603.7 740.9,2604.9 741.2,2605.9 741.5,2606.4 741.8,2606.4 742.1,2606 742.4,2605.3 742.7,2604.3 743,2603 743.3,2601.7 743.6,2600.3 743.9,2598.9 744.2,2597.6 744.5,2596.4 744.8,2595.3 745.1,2594.3 745.4,2593.4 745.7,2592.7 746,2592.2 746.6,2591.9 747.2,2592.3 747.5,2592.7 747.8,2593.3 748.1,2593.9 748.4,2594.4 748.7,2595 749,2595.4 749.3,2595.8 749.9,2596.3 751.1,2596.7 763.1,2596.8 775.1,2596.8 787.1,2596.8 799.1,2596.8 811.1,2596.8 823.1,2596.8 835.1,2596.8 847.1,2596.8 859.1,2596.8 871.1,2596.8 883.1,2596.8 895.1,2596.8 907.1,2596.8 919.1,2596.8 931.1,2597 932.9,2597.4 934.1,2597.8 935,2598.2 935.9,2598.6 939.2,2598.2 940.1,2597.8 941.3,2597.3 943.4,2597 955.4,2596.8 967.4,2596.8 979.4,2596.8 991.4,2596.8 1003.4,2596.8 1015.4,2596.8 1027.4,2596.8 1039.4,2596.8 1051.4,2596.8 1063.4,2596.8 1075.4,2596.8 1087.4,2596.8 1097,2597.2 1097.6,2597.6 1098.2,2598.1 1098.8,2598.7 1099.4,2599.1 1101.5,2598.6 1102.4,2598.2 1103.6,2598.6 1104.2,2599.1 1106.3,2598.6 1106.9,2598 1107.5,2597.5 1108.4,2597 1120.4,2596.8 1132.4,2596.8 1144.4,2596.8 1156.4,2596.8 1168.4,2596.8 1180.4,2596.8 1192.4,2596.8 1204.4,2596.8 1216.4,2596.8 1228.4,2596.8 1240.4,2596.9 1242.8,2597.4 1244,2597.8 1244.9,2598.2 1245.8,2598.6 1249.1,2598.2 1250,2597.8 1251.2,2597.4 1253,2597 1265,2596.8 1277,2596.8 1289,2596.8 1301,2596.8 1313,2596.8 1325,2596.8 1337,2596.8 1349,2596.8 1361,2596.8 1372.4,2596.4 1373.6,2596.1 1374.5,2595.6 1375.1,2595.2 1375.7,2594.8 1376.3,2594.4 1377.2,2594 1379.6,2594.4 1380.2,2594.8 1380.8,2595.2 1381.4,2595.6 1382.3,2596 1383.5,2596.4 1389.2,2596.8 1401.2,2596.8 1413.2,2596.8 1425.2,2596.8 1437.2,2596.8 1449.2,2596.8 1461.2,2596.8 1473.2,2596.8 1485.2,2596.8 1497.2,2596.8 1509.2,2596.8 1521.2,2596.8 1533.2,2596.8 1545.2,2596.8 1557.2,2596.8 1569.2,2596.8 1581.2,2596.8 1593.2,2596.8 1605.2,2596.5 1607,2596.1 1607.9,2595.8 1608.8,2595.4 1609.7,2595 1613,2595.4 1613.9,2595.8 1615.1,2596.3 1617.2,2596.6 1629.2,2596.8 1641.2,2596.8 1653.2,2596.8 1665.2,2596.8 1677.2,2596.8 1689.2,2596.8 1701.2,2596.8 1710.8,2597.2 1712,2597.6 1712.9,2598 1713.8,2598.4 1715,2598.8 1717.4,2598.3 1718.3,2597.9 1719.2,2597.5 1720.7,2597.1 1732.7,2596.8 1744.7,2596.8 1756.7,2596.8 1768.7,2596.8 1780.7,2596.8 1792.7,2596.8 1804.7,2596.8 1811.6,2596.4 1813.1,2596 1814.3,2595.6 1818.8,2596 1820.3,2596.4 1824.8,2596.8 1836.8,2596.8 1848.8,2596.8 1860.8,2596.8 1872.8,2596.8 1884.8,2596.8 1896.8,2596.8 1908.8,2596.8 1920.8,2596.8 1932.8,2596.8 1944.8,2596.8 1951.7,2596.8" fill="none" stroke="#00f" stroke-width="10.6" stroke-linejoin="round" stroke-linecap="round"/>
</g>
<g clip-path="url(#cIC)">
<polyline points="1098,2090.8 1102.4,2090.8 1106.9,2090.8 1111.3,2090.8 1115.8,2090.9 1120.2,2090.9 1124.6,2090.9 1129.1,2090.9 1133.5,2090.9 1138,2090.9 1142.4,2091 1146.8,2091 1151.3,2091 1155.7,2091 1160.2,2091 1164.6,2091 1169,2091.1 1173.5,2091.1 1177.9,2091.1 1182.4,2091.1 1186.8,2091.1 1191.2,2091.1 1195.7,2091.1 1200.1,2091.2 1204.6,2091.2 1209,2091.2 1213.4,2091.2 1217.9,2091.2 1222.3,2091.2 1226.8,2091.3 1231.2,2091.3 1235.6,2091.3 1240.1,2091.3 1244.5,2091.3 1249,2091.3 1253.4,2091.3 1257.8,2091.4 1262.3,2091.4 1266.7,2091.4 1271.2,2091.4 1275.6,2091.4 1280,2091.4 1284.5,2091.5 1288.9,2091.5 1293.4,2091.5 1297.8,2091.5 1302.2,2091.5 1306.7,2091.5 1311.1,2091.6 1315.6,2091.6 1320,2091.6 1324.4,2091.6 1328.9,2091.6 1333.3,2091.6 1337.8,2091.6 1342.2,2091.7 1346.6,2091.7 1351.1,2091.7 1355.5,2091.7 1360,2091.7 1364.4,2091.7 1368.8,2091.8 1373.3,2091.8 1377.7,2091.8 1382.2,2091.8 1386.6,2091.8 1391,2091.8 1395.5,2091.8 1399.9,2091.9 1404.4,2091.9 1408.8,2091.9 1413.2,2091.9 1417.7,2091.9 1422.1,2091.9 1426.6,2092 1431,2092 1435.4,2092 1439.9,2092 1444.3,2092 1448.8,2092 1453.2,2092.1 1457.6,2092.1 1462.1,2092.1 1466.5,2092.1 1471,2092.1 1475.4,2092.1 1479.8,2092.1 1484.3,2092.2 1488.7,2092.2 1493.2,2092.2 1497.6,2092.2 1502,2092.2 1506.5,2092.2 1510.9,2092.3 1515.4,2092.3 1519.8,2092.3 1524.2,2092.3 1528.7,2092.3 1533.1,2092.3 1537.6,2092.3 1542,2092.4 1546.4,2092.4 1550.9,2092.4 1555.3,2092.4 1559.8,2092.4 1564.2,2092.4 1568.6,2092.5 1573.1,2092.5 1577.5,2092.5 1582,2092.5 1586.4,2092.5 1590.8,2092.5 1595.3,2092.5 1599.7,2092.6 1604.2,2092.6 1608.6,2092.6 1613,2092.6 1617.5,2092.6 1621.9,2092.6 1626.4,2092.6 1630.8,2092.6 1635.2,2092.6 1639.7,2092.6 1644.1,2092.6 1648.6,2092.6 1653,2092.6 1657.4,2092.6 1661.9,2092.6 1666.3,2092.6 1670.8,2092.6 1675.2,2092.6 1679.6,2092.5 1684.1,2092.5 1688.5,2092.4 1693,2092.3 1697.4,2092.2 1701.8,2092.1 1706.3,2091.9 1710.7,2091.4 1715.2,2090.6 1719.6,2088.8 1724,2085.6 1728.5,2080.1 1732.9,2071.8 1737.4,2061.2 1741.8,2049.7 1746.2,2040.2 1750.7,2036.1 1755.1,2039.3 1759.6,2048.2 1764,2059.6 1768.4,2070.6 1772.9,2079.2 1777.3,2085.1 1781.8,2088.7 1786.2,2090.6 1790.6,2091.6 1795.1,2092.1 1799.5,2092.4 1804,2092.6 1808.4,2092.7 1812.8,2092.8 1817.3,2092.9 1821.7,2093 1826.2,2093.1 1830.6,2093.1 1835,2093.2 1839.5,2093.2 1843.9,2093.3 1848.4,2093.3 1852.8,2093.4 1857.2,2093.4 1861.7,2093.4 1866.1,2093.4 1870.6,2093.5 1875,2093.5 1879.4,2093.5 1883.9,2093.5 1888.3,2093.6 1892.8,2093.6 1897.2,2093.6 1901.6,2093.6 1906.1,2093.6 1910.5,2093.7 1915,2093.7 1919.4,2093.7 1923.8,2093.7 1928.3,2093.7 1932.7,2093.7 1937.2,2093.8 1941.6,2093.8 1946,2093.8 1950.5,2093.8 1954.9,2093.8 1959.4,2093.8 1963.8,2093.9" fill="none" stroke="#f00" stroke-width="6" stroke-linejoin="round" marker-start="url(#iR)" marker-mid="url(#iR)" marker-end="url(#iR)"/>
<polyline points="1098,2092.8 1111.5,2092.8 1125,2092.9 1138.5,2092.9 1152,2093 1165.5,2093 1179,2093.1 1192.5,2093.1 1206,2093.2 1219.5,2093.2 1233,2093.3 1246.5,2093.3 1260,2093.4 1273.5,2093.4 1287,2093.5 1300.5,2093.5 1314,2093.6 1327.5,2093.6 1341,2093.7 1354.5,2093.7 1368,2093.8 1381.5,2093.8 1395,2093.8 1408.5,2093.9 1422,2093.9 1435.5,2094 1449,2094 1462.5,2094.1 1476,2094.1 1489.5,2094.2 1503,2094.2 1516.5,2094.3 1530,2094.3 1543.5,2094.4 1557,2094.4 1570.5,2094.5 1584,2094.5 1597.5,2094.5 1611,2094.6 1624.5,2094.6 1638,2094.6 1651.5,2094.6 1665,2094.6 1678.5,2094.5 1692,2094.3 1704,2094 1710,2093.5 1713,2093 1714.5,2092.6 1716,2092.2 1717.5,2091.7 1719,2091 1720.5,2090.1 1722,2089.1 1723.5,2087.8 1725,2086.3 1726.5,2084.4 1728,2082.3 1729.5,2079.8 1731,2077 1732.5,2073.9 1734,2070.4 1735.5,2066.7 1737,2062.8 1738.5,2058.7 1740,2054.6 1741.5,2050.6 1743,2046.8 1744.5,2043.3 1746,2040.3 1747.5,2038 1749,2036.4 1750.5,2035.7 1752,2035.8 1753.5,2036.8 1755,2038.7 1756.5,2041.3 1758,2044.5 1759.5,2048.1 1761,2052 1762.5,2056.1 1764,2060.2 1765.5,2064.2 1767,2068.1 1768.5,2071.7 1770,2075.1 1771.5,2078.1 1773,2080.8 1774.5,2083.2 1776,2085.2 1777.5,2087 1779,2088.4 1780.5,2089.7 1782,2090.6 1783.5,2091.4 1785,2092.1 1786.5,2092.6 1788,2093 1791,2093.6 1794,2094 1800,2094.4 1810.5,2094.8 1824,2095 1837.5,2095.2 1851,2095.3 1864.5,2095.4 1878,2095.5 1891.5,2095.6 1905,2095.6 1918.5,2095.7 1932,2095.7 1945.5,2095.8 1959,2095.8 1962,2095.8" fill="none" stroke="#000" stroke-width="11.4" stroke-linejoin="round" stroke-linecap="butt"/>
</g>
<path d="M296.2 147.3H417.9" stroke="#f00" stroke-width="10.8" stroke-linecap="round" fill="none"/>
<circle cx="356.5" cy="147.3" r="11.8" fill="url(#gr)"/>
<path d="M296.2 233H417.9" stroke="#000" stroke-width="10.8" stroke-linecap="round" fill="none"/>
<path d="M296.2 319.5H417.9" stroke="#00f" stroke-width="10.8" stroke-linecap="round" fill="none"/>
<path d="M357.3 389.2V424.1" stroke="#0f0" stroke-width="8.4" stroke-linecap="round" fill="none"/>
<text font-size="55" font-family="'Liberation Sans',Arial,sans-serif"><tspan x="432.7" y="165.5">Y</tspan><tspan x="468.9" y="187.1" font-size="33.2">obs</tspan></text>
<text font-size="55" font-family="'Liberation Sans',Arial,sans-serif"><tspan x="432.7" y="251.7">Y</tspan><tspan x="468.9" y="273.3" font-size="33.2">cal</tspan></text>
<text font-size="55" font-family="'Liberation Sans',Arial,sans-serif"><tspan x="432.7" y="337.4">Y</tspan><tspan x="468.9" y="359" font-size="33.2">obs</tspan><tspan x="523.2" y="337.4">-</tspan><tspan x="540.2" y="337.4">Y</tspan><tspan x="578.2" y="359" font-size="33.2">cal</tspan></text>
<text x="432.5" y="424" font-size="55" font-family="'Liberation Sans',Arial,sans-serif" text-anchor="start" >Bragg peak</text>
<text x="434.5" y="491" font-size="55" font-family="'Liberation Sans',Arial,sans-serif" text-anchor="start" >positions</text>
<path d="M305.4 1892.4H427" stroke="#f00" stroke-width="10.8" stroke-linecap="round" fill="none"/>
<circle cx="365.3" cy="1892.4" r="12" fill="url(#gr)"/>
<path d="M305.4 1978.6H427" stroke="#000" stroke-width="10.8" stroke-linecap="round" fill="none"/>
<path d="M305.4 2064.2H427" stroke="#00f" stroke-width="10.8" stroke-linecap="round" fill="none"/>
<path d="M366 2132.2V2169.3" stroke="#0f0" stroke-width="8.4" stroke-linecap="round" fill="none"/>
<text font-size="55" font-family="'Liberation Sans',Arial,sans-serif"><tspan x="442.2" y="1910.9">Y</tspan><tspan x="478.4" y="1932.5" font-size="33.2">obs</tspan></text>
<text font-size="55" font-family="'Liberation Sans',Arial,sans-serif"><tspan x="442.2" y="1997">Y</tspan><tspan x="478.4" y="2018.6" font-size="33.2">cal</tspan></text>
<text font-size="55" font-family="'Liberation Sans',Arial,sans-serif"><tspan x="442.2" y="2083.3">Y</tspan><tspan x="478.4" y="2104.9" font-size="33.2">obs</tspan><tspan x="532.7" y="2083.3">-</tspan><tspan x="549.7" y="2083.3">Y</tspan><tspan x="587.7" y="2104.9" font-size="33.2">cal</tspan></text>
<text x="441.7" y="2168.9" font-size="55" font-family="'Liberation Sans',Arial,sans-serif" text-anchor="start" >Bragg peak</text>
<text x="444.4" y="2235.7" font-size="55" font-family="'Liberation Sans',Arial,sans-serif" text-anchor="start" >positions</text>
<path d="M297.5 986.2H461.5" stroke="#f00" stroke-width="6" stroke-linecap="round" fill="none"/>
<circle cx="379.2" cy="986.8" r="18.8" fill="url(#gr)"/>
<path d="M297 1077.3H463" stroke="#000" stroke-width="3" stroke-linecap="round" fill="none"/>
<circle cx="379.5" cy="1077.3" r="13.9" fill="url(#gk)"/>
<path d="M297 1168.2H463" stroke="#00f" stroke-width="3" stroke-linecap="round" fill="none"/>
<circle cx="379.5" cy="1168.2" r="11.9" fill="url(#gb)"/>
<path d="M297 1259.6H463" stroke="#0f0" stroke-width="3.2" stroke-linecap="round" fill="none"/>
<circle cx="378.8" cy="1259.6" r="5" fill="url(#gg)"/>
<text x="480.5" y="1012.4" font-size="74.5" font-family="'Liberation Sans',Arial,sans-serif" text-anchor="start" >0%</text>
<text x="480.5" y="1103.2" font-size="74.5" font-family="'Liberation Sans',Arial,sans-serif" text-anchor="start" >20%</text>
<text x="480.5" y="1194" font-size="74.5" font-family="'Liberation Sans',Arial,sans-serif" text-anchor="start" >40%</text>
<text x="480.5" y="1285.5" font-size="74.5" font-family="'Liberation Sans',Arial,sans-serif" text-anchor="start" >50%</text>
<text x="755.3" y="112.7" font-size="84.5" font-family="'Liberation Serif','Times New Roman',serif" text-anchor="middle" >(220)</text>
<text x="928.5" y="165.8" font-size="99.5" font-family="'Liberation Serif','Times New Roman',serif" text-anchor="middle" >(a)</text>
<text x="739" y="1014.4" font-size="85" font-family="'Liberation Serif','Times New Roman',serif" text-anchor="middle" >(220)</text>
<text x="909.2" y="1071.5" font-size="99.5" font-family="'Liberation Serif','Times New Roman',serif" text-anchor="middle" >(b)</text>
<text x="743.2" y="1852.4" font-size="68.5" font-family="'Liberation Serif','Times New Roman',serif" text-anchor="middle" >(220)</text>
<text x="899.8" y="1921.6" font-size="99.5" font-family="'Liberation Serif','Times New Roman',serif" text-anchor="middle" >(c)</text>
<text transform="translate(410.5 563.3) rotate(-90)" font-size="62.5" font-family="'Liberation Serif','Times New Roman',serif" text-anchor="middle" >(111)</text>
<text transform="translate(509.5 603) rotate(-90)" font-size="62.5" font-family="'Liberation Serif','Times New Roman',serif" text-anchor="middle" >(200)</text>
<text transform="translate(1326.5 132.4) rotate(-90)" font-size="70" font-family="'Liberation Serif','Times New Roman',serif" text-anchor="middle" >(111)</text>
<text transform="translate(1761 158.6) rotate(-90)" font-size="70" font-family="'Liberation Serif','Times New Roman',serif" text-anchor="middle" >(200)</text>
<text transform="translate(394.5 1559.4) rotate(-90)" font-size="62.5" font-family="'Liberation Serif','Times New Roman',serif" text-anchor="middle" >(111)</text>
<text transform="translate(510.5 1554) rotate(-90)" font-size="62.5" font-family="'Liberation Serif','Times New Roman',serif" text-anchor="middle" >(200)</text>
<text transform="translate(1327.5 1051.2) rotate(-90)" font-size="70" font-family="'Liberation Serif','Times New Roman',serif" text-anchor="middle" >(111)</text>
<text transform="translate(1754.5 1083.6) rotate(-90)" font-size="70" font-family="'Liberation Serif','Times New Roman',serif" text-anchor="middle" >(200)</text>
<text transform="translate(510 2344.3) rotate(-90)" font-size="62.5" font-family="'Liberation Serif','Times New Roman',serif" text-anchor="middle" >(200)</text>
<text transform="translate(1775 1920.5) rotate(-90)" font-size="70" font-family="'Liberation Serif','Times New Roman',serif" text-anchor="middle" >(200)</text>
<text x="1085" y="489.5" font-size="62" font-family="'Liberation Serif','Times New Roman',serif" text-anchor="middle" >3.3</text>
<text x="1319.4" y="489.5" font-size="62" font-family="'Liberation Serif','Times New Roman',serif" text-anchor="middle" >3.6</text>
<text x="1551" y="489.5" font-size="62" font-family="'Liberation Serif','Times New Roman',serif" text-anchor="middle" >3.9</text>
<text x="1782" y="489.5" font-size="62" font-family="'Liberation Serif','Times New Roman',serif" text-anchor="middle" >4.2</text>
<text x="1092.2" y="1466.2" font-size="57.5" font-family="'Liberation Serif','Times New Roman',serif" text-anchor="middle" >3.3</text>
<text x="1325" y="1466.2" font-size="57.5" font-family="'Liberation Serif','Times New Roman',serif" text-anchor="middle" >3.6</text>
<text x="1557.4" y="1466.2" font-size="57.5" font-family="'Liberation Serif','Times New Roman',serif" text-anchor="middle" >3.9</text>
<text x="1788.6" y="1466.2" font-size="57.5" font-family="'Liberation Serif','Times New Roman',serif" text-anchor="middle" >4.2</text>
<text x="1102" y="2246.5" font-size="66" font-family="'Liberation Serif','Times New Roman',serif" text-anchor="middle" >3.3</text>
<text x="1335.4" y="2246.5" font-size="66" font-family="'Liberation Serif','Times New Roman',serif" text-anchor="middle" >3.6</text>
<text x="1568.3" y="2246.5" font-size="66" font-family="'Liberation Serif','Times New Roman',serif" text-anchor="middle" >3.9</text>
<text x="1799.4" y="2246.5" font-size="66" font-family="'Liberation Serif','Times New Roman',serif" text-anchor="middle" >4.2</text>
<text font-size="99" font-family="'Liberation Serif','Times New Roman',serif"><tspan x="1166" y="1901" font-family="'Noto Serif CJK SC','Liberation Serif',serif">χ</tspan><tspan x="1213.5" y="1844.7" font-size="57">2</tspan><tspan x="1241.5" y="1901" textLength="61.4" lengthAdjust="spacingAndGlyphs">=</tspan><tspan x="1299.5" y="1901">0.3</tspan></text>
<text x="468.5" y="2770.8" font-size="77.5" font-family="'Liberation Serif','Times New Roman',serif" text-anchor="middle" >4</text>
<text x="764.1" y="2770.8" font-size="77.5" font-family="'Liberation Serif','Times New Roman',serif" text-anchor="middle" >6</text>
<text x="1059.7" y="2770.8" font-size="77.5" font-family="'Liberation Serif','Times New Roman',serif" text-anchor="middle" >8</text>
<text x="1356.8" y="2770.8" font-size="77.5" font-family="'Liberation Serif','Times New Roman',serif" text-anchor="middle" >10</text>
<text x="1652.4" y="2770.8" font-size="77.5" font-family="'Liberation Serif','Times New Roman',serif" text-anchor="middle" >12</text>
<text x="1948" y="2770.8" font-size="77.5" font-family="'Liberation Serif','Times New Roman',serif" text-anchor="middle" >14</text>
<text x="996" y="2879" font-size="100.5" font-family="'Liberation Serif','Times New Roman',serif" text-anchor="middle" >2θ (deg)</text>
<text transform="translate(182.2 1394.3) rotate(-90)" font-size="102.6" font-family="'Liberation Serif','Times New Roman',serif" text-anchor="middle" >Intensity (arb.units)</text>
</svg>
</body></html>
